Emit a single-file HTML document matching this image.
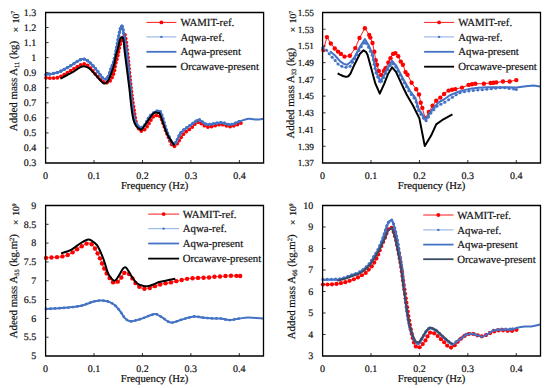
<!DOCTYPE html>
<html><head><meta charset="utf-8"><style>
html,body{margin:0;padding:0;background:#fff;}
body{width:550px;height:388px;overflow:hidden;}
svg{display:block;font-family:"Liberation Serif", serif;text-rendering:geometricPrecision;}
text{fill:#111;stroke:#111;stroke-width:0.2px;}
</style></head><body>
<svg width="550" height="388" viewBox="0 0 550 388">
<rect width="550" height="388" fill="#fff"/>
<path d="M46.00,77.80 L46.47,77.83 L47.08,77.87 L47.80,77.92 L48.62,77.98 L49.49,78.04 L50.39,78.09 L51.30,78.13 L52.19,78.14 L53.03,78.14 L53.80,78.10 L54.49,78.05 L55.13,78.01 L55.73,77.97 L56.32,77.91 L56.91,77.83 L57.51,77.71 L58.14,77.55 L58.82,77.33 L59.57,77.05 L60.40,76.70 L61.33,76.25 L62.34,75.70 L63.42,75.07 L64.56,74.39 L65.72,73.67 L66.89,72.93 L68.06,72.19 L69.19,71.48 L70.28,70.81 L71.30,70.20 L72.28,69.63 L73.24,69.06 L74.19,68.50 L75.12,67.95 L76.03,67.42 L76.90,66.92 L77.74,66.45 L78.54,66.02 L79.29,65.64 L80.00,65.30 L80.64,65.00 L81.22,64.73 L81.75,64.50 L82.23,64.30 L82.69,64.13 L83.12,64.01 L83.55,63.93 L83.98,63.90 L84.43,63.92 L84.90,64.00 L85.38,64.13 L85.85,64.31 L86.32,64.54 L86.78,64.82 L87.25,65.14 L87.72,65.50 L88.21,65.92 L88.72,66.37 L89.25,66.86 L89.80,67.40 L90.38,68.00 L91.00,68.69 L91.63,69.43 L92.28,70.23 L92.94,71.06 L93.62,71.91 L94.29,72.75 L94.97,73.57 L95.64,74.36 L96.30,75.10 L96.97,75.82 L97.67,76.55 L98.39,77.28 L99.12,78.01 L99.83,78.71 L100.53,79.38 L101.20,80.01 L101.82,80.58 L102.39,81.08 L102.90,81.50 L103.33,81.83 L103.70,82.08 L104.02,82.26 L104.29,82.39 L104.54,82.47 L104.76,82.52 L104.98,82.54 L105.20,82.55 L105.44,82.57 L105.70,82.60 L105.98,82.64 L106.26,82.67 L106.55,82.69 L106.83,82.70 L107.12,82.69 L107.40,82.67 L107.68,82.62 L107.96,82.54 L108.23,82.44 L108.50,82.30 L108.76,82.14 L109.01,81.96 L109.26,81.76 L109.51,81.54 L109.75,81.29 L109.99,81.01 L110.24,80.69 L110.49,80.34 L110.74,79.94 L111.00,79.50 L111.27,79.01 L111.56,78.48 L111.85,77.90 L112.15,77.29 L112.44,76.64 L112.74,75.96 L113.02,75.25 L113.30,74.52 L113.56,73.77 L113.80,73.00 L114.02,72.20 L114.22,71.36 L114.40,70.48 L114.57,69.58 L114.73,68.66 L114.89,67.72 L115.05,66.78 L115.22,65.84 L115.40,64.91 L115.60,64.00 L115.81,63.10 L116.03,62.22 L116.26,61.33 L116.49,60.45 L116.73,59.56 L116.97,58.67 L117.21,57.77 L117.44,56.86 L117.68,55.94 L117.90,55.00 L118.11,54.03 L118.32,53.02 L118.52,51.99 L118.72,50.95 L118.92,49.91 L119.12,48.87 L119.32,47.85 L119.54,46.86 L119.76,45.90 L120.00,45.00 L120.26,44.13 L120.53,43.27 L120.81,42.42 L121.11,41.60 L121.41,40.81 L121.70,40.05 L122.00,39.33 L122.28,38.67 L122.55,38.05 L122.80,37.50 L123.04,36.98 L123.27,36.48 L123.49,36.01 L123.70,35.59 L123.91,35.21 L124.10,34.91 L124.29,34.68 L124.47,34.54 L124.64,34.51 L124.80,34.60 L124.95,34.83 L125.08,35.22 L125.21,35.72 L125.32,36.32 L125.42,36.99 L125.52,37.71 L125.62,38.45 L125.71,39.17 L125.81,39.87 L125.90,40.50 L125.99,41.06 L126.07,41.57 L126.14,42.06 L126.21,42.53 L126.28,43.02 L126.34,43.56 L126.42,44.15 L126.50,44.82 L126.59,45.60 L126.70,46.50 L126.82,47.52 L126.95,48.62 L127.08,49.79 L127.23,51.05 L127.38,52.38 L127.53,53.77 L127.69,55.24 L127.86,56.76 L128.03,58.35 L128.20,60.00 L128.38,61.76 L128.57,63.66 L128.78,65.68 L128.98,67.77 L129.19,69.91 L129.40,72.05 L129.61,74.16 L129.82,76.22 L130.01,78.17 L130.20,80.00 L130.37,81.70 L130.54,83.32 L130.69,84.87 L130.84,86.36 L130.99,87.81 L131.14,89.24 L131.29,90.66 L131.45,92.08 L131.62,93.52 L131.80,95.00 L131.99,96.50 L132.20,98.02 L132.41,99.53 L132.62,101.05 L132.84,102.56 L133.07,104.07 L133.30,105.57 L133.53,107.06 L133.77,108.54 L134.00,110.00 L134.23,111.47 L134.45,112.98 L134.66,114.49 L134.88,116.01 L135.11,117.50 L135.34,118.95 L135.59,120.35 L135.87,121.66 L136.17,122.89 L136.50,124.00 L136.87,125.03 L137.26,126.01 L137.69,126.93 L138.13,127.78 L138.59,128.56 L139.07,129.26 L139.55,129.86 L140.04,130.35 L140.52,130.74 L141.00,131.00 L141.47,131.14 L141.94,131.17 L142.40,131.09 L142.87,130.90 L143.34,130.62 L143.83,130.26 L144.34,129.80 L144.86,129.27 L145.42,128.67 L146.00,128.00 L146.63,127.18 L147.32,126.16 L148.05,124.99 L148.80,123.72 L149.56,122.41 L150.32,121.10 L151.06,119.85 L151.76,118.72 L152.41,117.75 L153.00,117.00 L153.52,116.45 L153.99,116.03 L154.42,115.73 L154.82,115.52 L155.19,115.41 L155.54,115.36 L155.89,115.36 L156.25,115.39 L156.61,115.45 L157.00,115.50 L157.39,115.53 L157.77,115.53 L158.13,115.53 L158.50,115.56 L158.87,115.66 L159.25,115.84 L159.65,116.13 L160.07,116.57 L160.51,117.19 L161.00,118.00 L161.52,119.07 L162.07,120.39 L162.65,121.92 L163.25,123.60 L163.87,125.38 L164.50,127.21 L165.15,129.04 L165.80,130.81 L166.45,132.49 L167.10,134.00 L167.75,135.50 L168.39,137.10 L169.04,138.75 L169.69,140.39 L170.36,141.95 L171.04,143.37 L171.74,144.59 L172.46,145.54 L173.21,146.16 L174.00,146.40 L174.83,146.16 L175.71,145.48 L176.62,144.42 L177.56,143.10 L178.52,141.59 L179.48,139.98 L180.44,138.37 L181.39,136.84 L182.31,135.49 L183.20,134.40 L184.07,133.52 L184.93,132.72 L185.78,131.99 L186.63,131.33 L187.46,130.71 L188.28,130.12 L189.09,129.54 L189.88,128.98 L190.65,128.40 L191.40,127.80 L192.11,127.15 L192.77,126.43 L193.40,125.69 L194.01,124.95 L194.61,124.23 L195.21,123.57 L195.84,123.00 L196.51,122.55 L197.22,122.24 L198.00,122.10 L198.83,122.19 L199.69,122.52 L200.58,123.02 L201.49,123.65 L202.44,124.35 L203.43,125.06 L204.44,125.74 L205.49,126.32 L206.58,126.76 L207.70,127.00 L208.89,127.03 L210.16,126.90 L211.48,126.65 L212.85,126.32 L214.24,125.93 L215.63,125.53 L217.01,125.15 L218.34,124.83 L219.61,124.60 L220.80,124.50 L221.91,124.54 L222.96,124.70 L223.95,124.95 L224.91,125.24 L225.85,125.57 L226.77,125.89 L227.70,126.17 L228.64,126.39 L229.60,126.51 L230.60,126.50 L231.68,126.35 L232.85,126.08 L234.08,125.72 L235.33,125.29 L236.56,124.83 L237.75,124.35 L238.85,123.89 L239.83,123.48 L240.66,123.14 L241.30,122.90" fill="none" stroke="#ff0000" stroke-width="0.90" stroke-linejoin="round"/>
<circle cx="46.00" cy="77.80" r="1.90" fill="#ff0000"/>
<circle cx="49.79" cy="78.05" r="1.90" fill="#ff0000"/>
<circle cx="53.59" cy="78.11" r="1.90" fill="#ff0000"/>
<circle cx="57.37" cy="77.74" r="1.90" fill="#ff0000"/>
<circle cx="60.93" cy="76.44" r="1.90" fill="#ff0000"/>
<circle cx="64.24" cy="74.58" r="1.90" fill="#ff0000"/>
<circle cx="67.46" cy="72.57" r="1.90" fill="#ff0000"/>
<circle cx="70.69" cy="70.56" r="1.90" fill="#ff0000"/>
<circle cx="73.96" cy="68.63" r="1.90" fill="#ff0000"/>
<circle cx="77.25" cy="66.73" r="1.90" fill="#ff0000"/>
<circle cx="80.64" cy="65.01" r="1.90" fill="#ff0000"/>
<circle cx="84.23" cy="63.91" r="1.90" fill="#ff0000"/>
<circle cx="87.64" cy="65.44" r="1.90" fill="#ff0000"/>
<circle cx="90.41" cy="68.04" r="1.90" fill="#ff0000"/>
<circle cx="92.85" cy="70.95" r="1.90" fill="#ff0000"/>
<circle cx="95.25" cy="73.90" r="1.90" fill="#ff0000"/>
<circle cx="97.82" cy="76.70" r="1.90" fill="#ff0000"/>
<circle cx="100.52" cy="79.37" r="1.90" fill="#ff0000"/>
<circle cx="103.38" cy="81.86" r="1.90" fill="#ff0000"/>
<circle cx="107.01" cy="82.70" r="1.90" fill="#ff0000"/>
<circle cx="110.15" cy="80.80" r="1.90" fill="#ff0000"/>
<circle cx="112.04" cy="77.51" r="1.90" fill="#ff0000"/>
<circle cx="113.48" cy="74.00" r="1.90" fill="#ff0000"/>
<circle cx="114.43" cy="70.32" r="1.90" fill="#ff0000"/>
<circle cx="115.09" cy="66.58" r="1.90" fill="#ff0000"/>
<circle cx="115.87" cy="62.86" r="1.90" fill="#ff0000"/>
<circle cx="116.83" cy="59.19" r="1.90" fill="#ff0000"/>
<circle cx="117.78" cy="55.51" r="1.90" fill="#ff0000"/>
<circle cx="118.56" cy="51.79" r="1.90" fill="#ff0000"/>
<circle cx="119.28" cy="48.06" r="1.90" fill="#ff0000"/>
<circle cx="120.19" cy="44.37" r="1.90" fill="#ff0000"/>
<circle cx="121.42" cy="40.77" r="1.90" fill="#ff0000"/>
<circle cx="122.90" cy="37.28" r="1.90" fill="#ff0000"/>
<circle cx="124.94" cy="34.82" r="1.90" fill="#ff0000"/>
<circle cx="125.63" cy="38.55" r="1.90" fill="#ff0000"/>
<circle cx="126.18" cy="42.31" r="1.90" fill="#ff0000"/>
<circle cx="126.65" cy="46.08" r="1.90" fill="#ff0000"/>
<circle cx="127.09" cy="49.86" r="1.90" fill="#ff0000"/>
<circle cx="127.52" cy="53.63" r="1.90" fill="#ff0000"/>
<circle cx="127.93" cy="57.41" r="1.90" fill="#ff0000"/>
<circle cx="128.32" cy="61.19" r="1.90" fill="#ff0000"/>
<circle cx="128.71" cy="64.97" r="1.90" fill="#ff0000"/>
<circle cx="129.08" cy="68.75" r="1.90" fill="#ff0000"/>
<circle cx="129.45" cy="72.53" r="1.90" fill="#ff0000"/>
<circle cx="129.83" cy="76.32" r="1.90" fill="#ff0000"/>
<circle cx="130.21" cy="80.10" r="1.90" fill="#ff0000"/>
<circle cx="130.59" cy="83.88" r="1.90" fill="#ff0000"/>
<circle cx="130.97" cy="87.66" r="1.90" fill="#ff0000"/>
<circle cx="131.38" cy="91.44" r="1.90" fill="#ff0000"/>
<circle cx="131.83" cy="95.21" r="1.90" fill="#ff0000"/>
<circle cx="132.33" cy="98.98" r="1.90" fill="#ff0000"/>
<circle cx="132.87" cy="102.74" r="1.90" fill="#ff0000"/>
<circle cx="133.44" cy="106.49" r="1.90" fill="#ff0000"/>
<circle cx="134.04" cy="110.25" r="1.90" fill="#ff0000"/>
<circle cx="134.60" cy="114.01" r="1.90" fill="#ff0000"/>
<circle cx="135.15" cy="117.77" r="1.90" fill="#ff0000"/>
<circle cx="135.83" cy="121.50" r="1.90" fill="#ff0000"/>
<circle cx="136.91" cy="125.14" r="1.90" fill="#ff0000"/>
<circle cx="138.59" cy="128.55" r="1.90" fill="#ff0000"/>
<circle cx="141.30" cy="131.09" r="1.90" fill="#ff0000"/>
<circle cx="144.58" cy="129.56" r="1.90" fill="#ff0000"/>
<circle cx="147.00" cy="126.64" r="1.90" fill="#ff0000"/>
<circle cx="148.98" cy="123.40" r="1.90" fill="#ff0000"/>
<circle cx="150.90" cy="120.12" r="1.90" fill="#ff0000"/>
<circle cx="153.02" cy="116.97" r="1.90" fill="#ff0000"/>
<circle cx="156.27" cy="115.40" r="1.90" fill="#ff0000"/>
<circle cx="159.83" cy="116.32" r="1.90" fill="#ff0000"/>
<circle cx="161.74" cy="119.58" r="1.90" fill="#ff0000"/>
<circle cx="163.08" cy="123.14" r="1.90" fill="#ff0000"/>
<circle cx="164.33" cy="126.72" r="1.90" fill="#ff0000"/>
<circle cx="165.61" cy="130.30" r="1.90" fill="#ff0000"/>
<circle cx="167.03" cy="133.83" r="1.90" fill="#ff0000"/>
<circle cx="168.48" cy="137.34" r="1.90" fill="#ff0000"/>
<circle cx="169.89" cy="140.87" r="1.90" fill="#ff0000"/>
<circle cx="171.56" cy="144.28" r="1.90" fill="#ff0000"/>
<circle cx="174.43" cy="146.28" r="1.90" fill="#ff0000"/>
<circle cx="177.13" cy="143.71" r="1.90" fill="#ff0000"/>
<circle cx="179.17" cy="140.51" r="1.90" fill="#ff0000"/>
<circle cx="181.13" cy="137.25" r="1.90" fill="#ff0000"/>
<circle cx="183.39" cy="134.21" r="1.90" fill="#ff0000"/>
<circle cx="186.21" cy="131.66" r="1.90" fill="#ff0000"/>
<circle cx="189.27" cy="129.41" r="1.90" fill="#ff0000"/>
<circle cx="192.22" cy="127.03" r="1.90" fill="#ff0000"/>
<circle cx="194.69" cy="124.14" r="1.90" fill="#ff0000"/>
<circle cx="197.81" cy="122.13" r="1.90" fill="#ff0000"/>
<circle cx="201.26" cy="123.49" r="1.90" fill="#ff0000"/>
<circle cx="204.36" cy="125.69" r="1.90" fill="#ff0000"/>
<circle cx="207.89" cy="127.00" r="1.90" fill="#ff0000"/>
<circle cx="211.65" cy="126.61" r="1.90" fill="#ff0000"/>
<circle cx="215.32" cy="125.62" r="1.90" fill="#ff0000"/>
<circle cx="219.01" cy="124.71" r="1.90" fill="#ff0000"/>
<circle cx="222.78" cy="124.67" r="1.90" fill="#ff0000"/>
<circle cx="226.42" cy="125.76" r="1.90" fill="#ff0000"/>
<circle cx="230.12" cy="126.50" r="1.90" fill="#ff0000"/>
<circle cx="233.84" cy="125.79" r="1.90" fill="#ff0000"/>
<circle cx="237.41" cy="124.49" r="1.90" fill="#ff0000"/>
<circle cx="240.92" cy="123.04" r="1.90" fill="#ff0000"/>
<path d="M46.00,74.50 L46.47,74.44 L47.08,74.37 L47.80,74.28 L48.62,74.19 L49.49,74.08 L50.39,73.96 L51.30,73.84 L52.19,73.70 L53.03,73.56 L53.80,73.40 L54.49,73.25 L55.13,73.11 L55.73,72.97 L56.32,72.82 L56.91,72.66 L57.51,72.47 L58.14,72.25 L58.82,71.99 L59.57,71.67 L60.40,71.30 L61.33,70.86 L62.34,70.34 L63.42,69.77 L64.56,69.16 L65.72,68.51 L66.89,67.85 L68.06,67.19 L69.19,66.53 L70.28,65.90 L71.30,65.30 L72.28,64.71 L73.24,64.09 L74.19,63.46 L75.12,62.82 L76.03,62.21 L76.90,61.62 L77.74,61.07 L78.54,60.57 L79.29,60.15 L80.00,59.80 L80.64,59.53 L81.22,59.32 L81.75,59.17 L82.23,59.06 L82.69,59.01 L83.12,58.99 L83.55,59.02 L83.98,59.08 L84.43,59.18 L84.90,59.30 L85.38,59.45 L85.85,59.64 L86.32,59.87 L86.78,60.13 L87.25,60.42 L87.72,60.76 L88.21,61.14 L88.72,61.55 L89.25,62.01 L89.80,62.50 L90.40,63.06 L91.04,63.70 L91.71,64.40 L92.40,65.15 L93.11,65.92 L93.80,66.70 L94.48,67.48 L95.13,68.23 L95.74,68.95 L96.30,69.60 L96.80,70.21 L97.27,70.80 L97.70,71.36 L98.10,71.91 L98.48,72.44 L98.85,72.96 L99.21,73.46 L99.57,73.95 L99.93,74.43 L100.30,74.90 L100.68,75.38 L101.05,75.87 L101.41,76.36 L101.77,76.85 L102.12,77.31 L102.48,77.74 L102.83,78.13 L103.19,78.46 L103.54,78.72 L103.90,78.90 L104.26,79.02 L104.62,79.10 L104.98,79.15 L105.34,79.14 L105.70,79.07 L106.06,78.94 L106.42,78.73 L106.78,78.44 L107.14,78.07 L107.50,77.60 L107.86,77.01 L108.22,76.31 L108.58,75.50 L108.94,74.60 L109.30,73.64 L109.66,72.64 L110.02,71.60 L110.38,70.55 L110.74,69.51 L111.10,68.50 L111.46,67.52 L111.82,66.56 L112.19,65.60 L112.55,64.63 L112.92,63.64 L113.28,62.60 L113.64,61.50 L114.00,60.33 L114.35,59.07 L114.70,57.70 L115.04,56.19 L115.38,54.55 L115.71,52.79 L116.03,50.95 L116.36,49.07 L116.68,47.17 L117.00,45.28 L117.33,43.43 L117.66,41.66 L118.00,40.00 L118.34,38.31 L118.70,36.50 L119.05,34.62 L119.41,32.76 L119.77,30.97 L120.13,29.34 L120.48,27.93 L120.83,26.80 L121.17,26.04 L121.50,25.70 L121.82,25.81 L122.13,26.30 L122.44,27.13 L122.74,28.24 L123.03,29.58 L123.32,31.10 L123.62,32.76 L123.91,34.49 L124.20,36.26 L124.50,38.00 L124.80,39.79 L125.11,41.73 L125.42,43.79 L125.72,45.96 L126.03,48.21 L126.34,50.52 L126.64,52.87 L126.93,55.25 L127.22,57.63 L127.50,60.00 L127.77,62.39 L128.03,64.84 L128.29,67.34 L128.54,69.88 L128.78,72.44 L129.02,75.00 L129.27,77.55 L129.51,80.08 L129.75,82.57 L130.00,85.00 L130.25,87.43 L130.50,89.89 L130.75,92.36 L131.00,94.82 L131.25,97.25 L131.50,99.62 L131.75,101.90 L132.00,104.07 L132.25,106.11 L132.50,108.00 L132.74,109.74 L132.97,111.35 L133.19,112.85 L133.41,114.25 L133.64,115.55 L133.87,116.77 L134.12,117.91 L134.38,119.00 L134.68,120.02 L135.00,121.00 L135.36,121.93 L135.74,122.79 L136.15,123.59 L136.57,124.32 L137.01,124.99 L137.46,125.58 L137.92,126.10 L138.39,126.54 L138.85,126.91 L139.30,127.20 L139.75,127.42 L140.19,127.57 L140.64,127.66 L141.09,127.68 L141.54,127.61 L142.01,127.47 L142.48,127.24 L142.97,126.92 L143.48,126.51 L144.00,126.00 L144.54,125.33 L145.10,124.48 L145.67,123.49 L146.26,122.39 L146.86,121.23 L147.47,120.06 L148.09,118.90 L148.72,117.81 L149.35,116.83 L150.00,116.00 L150.67,115.27 L151.38,114.58 L152.12,113.94 L152.87,113.35 L153.62,112.81 L154.37,112.33 L155.09,111.91 L155.78,111.56 L156.42,111.29 L157.00,111.10 L157.51,110.94 L157.96,110.77 L158.36,110.63 L158.72,110.55 L159.06,110.56 L159.40,110.68 L159.75,110.96 L160.12,111.42 L160.53,112.09 L161.00,113.00 L161.51,114.24 L162.06,115.82 L162.62,117.66 L163.21,119.70 L163.81,121.87 L164.43,124.08 L165.06,126.28 L165.70,128.37 L166.35,130.31 L167.00,132.00 L167.66,133.59 L168.34,135.22 L169.03,136.85 L169.73,138.43 L170.44,139.91 L171.15,141.23 L171.87,142.35 L172.58,143.22 L173.30,143.78 L174.00,144.00 L174.69,143.78 L175.37,143.13 L176.04,142.14 L176.70,140.88 L177.38,139.44 L178.06,137.90 L178.75,136.36 L179.47,134.89 L180.22,133.57 L181.00,132.50 L181.82,131.61 L182.69,130.79 L183.59,130.02 L184.51,129.30 L185.44,128.62 L186.38,127.98 L187.32,127.35 L188.24,126.73 L189.14,126.12 L190.00,125.50 L190.86,124.86 L191.72,124.20 L192.60,123.53 L193.46,122.88 L194.31,122.25 L195.12,121.66 L195.90,121.12 L196.63,120.66 L197.30,120.28 L197.90,120.00 L198.40,119.83 L198.80,119.74 L199.13,119.74 L199.40,119.81 L199.64,119.94 L199.87,120.11 L200.12,120.31 L200.41,120.54 L200.76,120.77 L201.20,121.00 L201.69,121.27 L202.19,121.63 L202.71,122.04 L203.25,122.48 L203.84,122.93 L204.47,123.37 L205.16,123.77 L205.93,124.11 L206.77,124.36 L207.70,124.50 L208.76,124.51 L209.95,124.40 L211.25,124.21 L212.62,123.95 L214.04,123.65 L215.48,123.35 L216.90,123.06 L218.29,122.82 L219.59,122.66 L220.80,122.60 L221.91,122.66 L222.97,122.82 L223.98,123.06 L224.95,123.35 L225.90,123.65 L226.83,123.95 L227.76,124.21 L228.69,124.40 L229.63,124.51 L230.60,124.50 L231.63,124.35 L232.73,124.09 L233.87,123.74 L235.03,123.32 L236.16,122.87 L237.25,122.41 L238.25,121.96 L239.15,121.56 L239.91,121.23 L240.50,121.00" fill="none" stroke="#9dbbe6" stroke-width="1.20" stroke-linejoin="round"/>
<circle cx="46.00" cy="74.50" r="1.60" fill="#4472c4"/>
<circle cx="49.77" cy="74.04" r="1.60" fill="#4472c4"/>
<circle cx="53.53" cy="73.46" r="1.60" fill="#4472c4"/>
<circle cx="57.22" cy="72.56" r="1.60" fill="#4472c4"/>
<circle cx="60.74" cy="71.14" r="1.60" fill="#4472c4"/>
<circle cx="64.11" cy="69.40" r="1.60" fill="#4472c4"/>
<circle cx="67.43" cy="67.54" r="1.60" fill="#4472c4"/>
<circle cx="70.72" cy="65.64" r="1.60" fill="#4472c4"/>
<circle cx="73.94" cy="63.62" r="1.60" fill="#4472c4"/>
<circle cx="77.09" cy="61.49" r="1.60" fill="#4472c4"/>
<circle cx="80.39" cy="59.64" r="1.60" fill="#4472c4"/>
<circle cx="84.09" cy="59.11" r="1.60" fill="#4472c4"/>
<circle cx="87.54" cy="60.63" r="1.60" fill="#4472c4"/>
<circle cx="90.43" cy="63.09" r="1.60" fill="#4472c4"/>
<circle cx="93.04" cy="65.85" r="1.60" fill="#4472c4"/>
<circle cx="95.54" cy="68.71" r="1.60" fill="#4472c4"/>
<circle cx="97.92" cy="71.67" r="1.60" fill="#4472c4"/>
<circle cx="100.17" cy="74.73" r="1.60" fill="#4472c4"/>
<circle cx="102.48" cy="77.75" r="1.60" fill="#4472c4"/>
<circle cx="105.81" cy="79.03" r="1.60" fill="#4472c4"/>
<circle cx="108.25" cy="76.24" r="1.60" fill="#4472c4"/>
<circle cx="109.63" cy="72.71" r="1.60" fill="#4472c4"/>
<circle cx="110.88" cy="69.12" r="1.60" fill="#4472c4"/>
<circle cx="112.21" cy="65.56" r="1.60" fill="#4472c4"/>
<circle cx="113.48" cy="61.98" r="1.60" fill="#4472c4"/>
<circle cx="114.54" cy="58.33" r="1.60" fill="#4472c4"/>
<circle cx="115.36" cy="54.62" r="1.60" fill="#4472c4"/>
<circle cx="116.04" cy="50.88" r="1.60" fill="#4472c4"/>
<circle cx="116.69" cy="47.14" r="1.60" fill="#4472c4"/>
<circle cx="117.34" cy="43.39" r="1.60" fill="#4472c4"/>
<circle cx="118.07" cy="39.66" r="1.60" fill="#4472c4"/>
<circle cx="118.80" cy="35.94" r="1.60" fill="#4472c4"/>
<circle cx="119.52" cy="32.20" r="1.60" fill="#4472c4"/>
<circle cx="120.34" cy="28.49" r="1.60" fill="#4472c4"/>
<circle cx="122.03" cy="26.14" r="1.60" fill="#4472c4"/>
<circle cx="123.07" cy="29.78" r="1.60" fill="#4472c4"/>
<circle cx="123.74" cy="33.52" r="1.60" fill="#4472c4"/>
<circle cx="124.37" cy="37.27" r="1.60" fill="#4472c4"/>
<circle cx="124.99" cy="41.01" r="1.60" fill="#4472c4"/>
<circle cx="125.56" cy="44.77" r="1.60" fill="#4472c4"/>
<circle cx="126.07" cy="48.54" r="1.60" fill="#4472c4"/>
<circle cx="126.56" cy="52.31" r="1.60" fill="#4472c4"/>
<circle cx="127.03" cy="56.08" r="1.60" fill="#4472c4"/>
<circle cx="127.48" cy="59.85" r="1.60" fill="#4472c4"/>
<circle cx="127.90" cy="63.63" r="1.60" fill="#4472c4"/>
<circle cx="128.29" cy="67.41" r="1.60" fill="#4472c4"/>
<circle cx="128.66" cy="71.19" r="1.60" fill="#4472c4"/>
<circle cx="129.02" cy="74.97" r="1.60" fill="#4472c4"/>
<circle cx="129.38" cy="78.75" r="1.60" fill="#4472c4"/>
<circle cx="129.75" cy="82.54" r="1.60" fill="#4472c4"/>
<circle cx="130.14" cy="86.32" r="1.60" fill="#4472c4"/>
<circle cx="130.52" cy="90.10" r="1.60" fill="#4472c4"/>
<circle cx="130.90" cy="93.88" r="1.60" fill="#4472c4"/>
<circle cx="131.29" cy="97.66" r="1.60" fill="#4472c4"/>
<circle cx="131.70" cy="101.44" r="1.60" fill="#4472c4"/>
<circle cx="132.14" cy="105.21" r="1.60" fill="#4472c4"/>
<circle cx="132.64" cy="108.98" r="1.60" fill="#4472c4"/>
<circle cx="133.18" cy="112.74" r="1.60" fill="#4472c4"/>
<circle cx="133.82" cy="116.49" r="1.60" fill="#4472c4"/>
<circle cx="134.73" cy="120.17" r="1.60" fill="#4472c4"/>
<circle cx="136.19" cy="123.67" r="1.60" fill="#4472c4"/>
<circle cx="138.52" cy="126.65" r="1.60" fill="#4472c4"/>
<circle cx="142.03" cy="127.46" r="1.60" fill="#4472c4"/>
<circle cx="144.80" cy="124.94" r="1.60" fill="#4472c4"/>
<circle cx="146.65" cy="121.62" r="1.60" fill="#4472c4"/>
<circle cx="148.45" cy="118.28" r="1.60" fill="#4472c4"/>
<circle cx="150.71" cy="115.24" r="1.60" fill="#4472c4"/>
<circle cx="153.62" cy="112.81" r="1.60" fill="#4472c4"/>
<circle cx="157.00" cy="111.10" r="1.60" fill="#4472c4"/>
<circle cx="160.25" cy="111.64" r="1.60" fill="#4472c4"/>
<circle cx="161.81" cy="115.09" r="1.60" fill="#4472c4"/>
<circle cx="162.93" cy="118.72" r="1.60" fill="#4472c4"/>
<circle cx="163.96" cy="122.38" r="1.60" fill="#4472c4"/>
<circle cx="164.99" cy="126.04" r="1.60" fill="#4472c4"/>
<circle cx="166.13" cy="129.66" r="1.60" fill="#4472c4"/>
<circle cx="167.50" cy="133.21" r="1.60" fill="#4472c4"/>
<circle cx="168.97" cy="136.71" r="1.60" fill="#4472c4"/>
<circle cx="170.57" cy="140.15" r="1.60" fill="#4472c4"/>
<circle cx="172.68" cy="143.29" r="1.60" fill="#4472c4"/>
<circle cx="175.71" cy="142.62" r="1.60" fill="#4472c4"/>
<circle cx="177.46" cy="139.25" r="1.60" fill="#4472c4"/>
<circle cx="179.03" cy="135.79" r="1.60" fill="#4472c4"/>
<circle cx="180.97" cy="132.54" r="1.60" fill="#4472c4"/>
<circle cx="183.72" cy="129.92" r="1.60" fill="#4472c4"/>
<circle cx="186.80" cy="127.70" r="1.60" fill="#4472c4"/>
<circle cx="189.93" cy="125.55" r="1.60" fill="#4472c4"/>
<circle cx="192.96" cy="123.26" r="1.60" fill="#4472c4"/>
<circle cx="196.05" cy="121.03" r="1.60" fill="#4472c4"/>
<circle cx="199.51" cy="119.87" r="1.60" fill="#4472c4"/>
<circle cx="202.65" cy="121.99" r="1.60" fill="#4472c4"/>
<circle cx="205.82" cy="124.06" r="1.60" fill="#4472c4"/>
<circle cx="209.56" cy="124.44" r="1.60" fill="#4472c4"/>
<circle cx="213.31" cy="123.80" r="1.60" fill="#4472c4"/>
<circle cx="217.03" cy="123.04" r="1.60" fill="#4472c4"/>
<circle cx="220.80" cy="122.60" r="1.60" fill="#4472c4"/>
<circle cx="224.53" cy="123.22" r="1.60" fill="#4472c4"/>
<circle cx="228.18" cy="124.30" r="1.60" fill="#4472c4"/>
<circle cx="231.94" cy="124.28" r="1.60" fill="#4472c4"/>
<circle cx="235.55" cy="123.11" r="1.60" fill="#4472c4"/>
<circle cx="239.04" cy="121.61" r="1.60" fill="#4472c4"/>
<path d="M46.00,74.50 C47.30,74.32 51.40,73.93 53.80,73.40 C56.20,72.87 57.48,72.65 60.40,71.30 C63.32,69.95 68.03,67.22 71.30,65.30 C74.57,63.38 77.73,60.80 80.00,59.80 C82.27,58.80 83.27,58.85 84.90,59.30 C86.53,59.75 87.90,60.78 89.80,62.50 C91.70,64.22 94.55,67.53 96.30,69.60 C98.05,71.67 99.03,73.35 100.30,74.90 C101.57,76.45 102.70,78.45 103.90,78.90 C105.10,79.35 106.30,79.33 107.50,77.60 C108.70,75.87 109.90,71.82 111.10,68.50 C112.30,65.18 113.55,62.45 114.70,57.70 C115.85,52.95 116.87,45.33 118.00,40.00 C119.13,34.67 120.42,26.03 121.50,25.70 C122.58,25.37 123.50,32.28 124.50,38.00 C125.50,43.72 126.58,52.17 127.50,60.00 C128.42,67.83 129.17,77.00 130.00,85.00 C130.83,93.00 131.67,102.00 132.50,108.00 C133.33,114.00 133.87,117.80 135.00,121.00 C136.13,124.20 137.80,126.37 139.30,127.20 C140.80,128.03 142.22,127.87 144.00,126.00 C145.78,124.13 147.83,118.48 150.00,116.00 C152.17,113.52 155.17,111.60 157.00,111.10 C158.83,110.60 159.33,109.52 161.00,113.00 C162.67,116.48 164.83,126.83 167.00,132.00 C169.17,137.17 171.67,143.92 174.00,144.00 C176.33,144.08 178.33,135.58 181.00,132.50 C183.67,129.42 187.18,127.58 190.00,125.50 C192.82,123.42 196.03,120.75 197.90,120.00 C199.77,119.25 199.57,120.25 201.20,121.00 C202.83,121.75 204.43,124.23 207.70,124.50 C210.97,124.77 216.98,122.60 220.80,122.60 C224.62,122.60 227.32,124.77 230.60,124.50 C233.88,124.23 237.50,121.95 240.50,121.00 C243.50,120.05 245.88,119.03 248.60,118.80 C251.32,118.57 254.33,119.60 256.80,119.60 C259.27,119.60 262.30,118.93 263.40,118.80" fill="none" stroke="#4472c4" stroke-width="2.00" stroke-linejoin="round" stroke-linecap="butt"/>
<circle cx="46.00" cy="74.50" r="1.60" fill="#4472c4"/>
<circle cx="49.77" cy="74.04" r="1.60" fill="#4472c4"/>
<circle cx="53.53" cy="73.46" r="1.60" fill="#4472c4"/>
<circle cx="57.22" cy="72.56" r="1.60" fill="#4472c4"/>
<circle cx="60.74" cy="71.14" r="1.60" fill="#4472c4"/>
<circle cx="64.11" cy="69.40" r="1.60" fill="#4472c4"/>
<circle cx="67.43" cy="67.54" r="1.60" fill="#4472c4"/>
<circle cx="70.72" cy="65.64" r="1.60" fill="#4472c4"/>
<circle cx="73.94" cy="63.62" r="1.60" fill="#4472c4"/>
<circle cx="77.09" cy="61.49" r="1.60" fill="#4472c4"/>
<circle cx="80.39" cy="59.64" r="1.60" fill="#4472c4"/>
<circle cx="84.09" cy="59.11" r="1.60" fill="#4472c4"/>
<circle cx="87.54" cy="60.63" r="1.60" fill="#4472c4"/>
<circle cx="90.43" cy="63.09" r="1.60" fill="#4472c4"/>
<circle cx="93.04" cy="65.85" r="1.60" fill="#4472c4"/>
<circle cx="95.54" cy="68.71" r="1.60" fill="#4472c4"/>
<circle cx="97.92" cy="71.67" r="1.60" fill="#4472c4"/>
<circle cx="100.17" cy="74.73" r="1.60" fill="#4472c4"/>
<circle cx="102.48" cy="77.75" r="1.60" fill="#4472c4"/>
<circle cx="105.81" cy="79.03" r="1.60" fill="#4472c4"/>
<circle cx="108.25" cy="76.24" r="1.60" fill="#4472c4"/>
<circle cx="109.63" cy="72.71" r="1.60" fill="#4472c4"/>
<circle cx="110.88" cy="69.12" r="1.60" fill="#4472c4"/>
<circle cx="112.21" cy="65.56" r="1.60" fill="#4472c4"/>
<circle cx="113.48" cy="61.98" r="1.60" fill="#4472c4"/>
<circle cx="114.54" cy="58.33" r="1.60" fill="#4472c4"/>
<circle cx="115.36" cy="54.62" r="1.60" fill="#4472c4"/>
<circle cx="116.04" cy="50.88" r="1.60" fill="#4472c4"/>
<circle cx="116.69" cy="47.14" r="1.60" fill="#4472c4"/>
<circle cx="117.34" cy="43.39" r="1.60" fill="#4472c4"/>
<circle cx="118.07" cy="39.66" r="1.60" fill="#4472c4"/>
<circle cx="118.80" cy="35.94" r="1.60" fill="#4472c4"/>
<circle cx="119.52" cy="32.20" r="1.60" fill="#4472c4"/>
<circle cx="120.34" cy="28.49" r="1.60" fill="#4472c4"/>
<circle cx="122.03" cy="26.14" r="1.60" fill="#4472c4"/>
<circle cx="123.07" cy="29.78" r="1.60" fill="#4472c4"/>
<circle cx="123.74" cy="33.52" r="1.60" fill="#4472c4"/>
<circle cx="124.37" cy="37.27" r="1.60" fill="#4472c4"/>
<circle cx="124.99" cy="41.01" r="1.60" fill="#4472c4"/>
<circle cx="125.56" cy="44.77" r="1.60" fill="#4472c4"/>
<circle cx="126.07" cy="48.54" r="1.60" fill="#4472c4"/>
<circle cx="126.56" cy="52.31" r="1.60" fill="#4472c4"/>
<circle cx="127.03" cy="56.08" r="1.60" fill="#4472c4"/>
<circle cx="127.48" cy="59.85" r="1.60" fill="#4472c4"/>
<circle cx="127.90" cy="63.63" r="1.60" fill="#4472c4"/>
<circle cx="128.29" cy="67.41" r="1.60" fill="#4472c4"/>
<circle cx="128.66" cy="71.19" r="1.60" fill="#4472c4"/>
<circle cx="129.02" cy="74.97" r="1.60" fill="#4472c4"/>
<circle cx="129.38" cy="78.75" r="1.60" fill="#4472c4"/>
<circle cx="129.75" cy="82.54" r="1.60" fill="#4472c4"/>
<circle cx="130.14" cy="86.32" r="1.60" fill="#4472c4"/>
<circle cx="130.52" cy="90.10" r="1.60" fill="#4472c4"/>
<circle cx="130.90" cy="93.88" r="1.60" fill="#4472c4"/>
<circle cx="131.29" cy="97.66" r="1.60" fill="#4472c4"/>
<circle cx="131.70" cy="101.44" r="1.60" fill="#4472c4"/>
<circle cx="132.14" cy="105.21" r="1.60" fill="#4472c4"/>
<circle cx="132.64" cy="108.98" r="1.60" fill="#4472c4"/>
<circle cx="133.18" cy="112.74" r="1.60" fill="#4472c4"/>
<circle cx="133.82" cy="116.49" r="1.60" fill="#4472c4"/>
<circle cx="134.73" cy="120.17" r="1.60" fill="#4472c4"/>
<circle cx="136.19" cy="123.67" r="1.60" fill="#4472c4"/>
<circle cx="138.52" cy="126.65" r="1.60" fill="#4472c4"/>
<circle cx="142.03" cy="127.46" r="1.60" fill="#4472c4"/>
<circle cx="144.80" cy="124.94" r="1.60" fill="#4472c4"/>
<circle cx="146.65" cy="121.62" r="1.60" fill="#4472c4"/>
<circle cx="148.45" cy="118.28" r="1.60" fill="#4472c4"/>
<circle cx="150.71" cy="115.24" r="1.60" fill="#4472c4"/>
<circle cx="153.62" cy="112.81" r="1.60" fill="#4472c4"/>
<circle cx="157.00" cy="111.10" r="1.60" fill="#4472c4"/>
<circle cx="160.25" cy="111.64" r="1.60" fill="#4472c4"/>
<circle cx="161.81" cy="115.09" r="1.60" fill="#4472c4"/>
<circle cx="162.93" cy="118.72" r="1.60" fill="#4472c4"/>
<circle cx="163.96" cy="122.38" r="1.60" fill="#4472c4"/>
<circle cx="164.99" cy="126.04" r="1.60" fill="#4472c4"/>
<circle cx="166.13" cy="129.66" r="1.60" fill="#4472c4"/>
<circle cx="167.50" cy="133.21" r="1.60" fill="#4472c4"/>
<circle cx="168.97" cy="136.71" r="1.60" fill="#4472c4"/>
<circle cx="170.57" cy="140.15" r="1.60" fill="#4472c4"/>
<circle cx="172.68" cy="143.29" r="1.60" fill="#4472c4"/>
<circle cx="175.71" cy="142.62" r="1.60" fill="#4472c4"/>
<circle cx="177.46" cy="139.25" r="1.60" fill="#4472c4"/>
<circle cx="179.03" cy="135.79" r="1.60" fill="#4472c4"/>
<circle cx="180.97" cy="132.54" r="1.60" fill="#4472c4"/>
<circle cx="183.72" cy="129.92" r="1.60" fill="#4472c4"/>
<circle cx="186.80" cy="127.70" r="1.60" fill="#4472c4"/>
<circle cx="189.93" cy="125.55" r="1.60" fill="#4472c4"/>
<circle cx="192.96" cy="123.26" r="1.60" fill="#4472c4"/>
<circle cx="196.05" cy="121.03" r="1.60" fill="#4472c4"/>
<circle cx="199.51" cy="119.87" r="1.60" fill="#4472c4"/>
<circle cx="202.65" cy="121.99" r="1.60" fill="#4472c4"/>
<circle cx="205.82" cy="124.06" r="1.60" fill="#4472c4"/>
<circle cx="209.56" cy="124.44" r="1.60" fill="#4472c4"/>
<circle cx="213.31" cy="123.80" r="1.60" fill="#4472c4"/>
<circle cx="217.03" cy="123.04" r="1.60" fill="#4472c4"/>
<circle cx="220.80" cy="122.60" r="1.60" fill="#4472c4"/>
<circle cx="224.53" cy="123.22" r="1.60" fill="#4472c4"/>
<circle cx="228.18" cy="124.30" r="1.60" fill="#4472c4"/>
<circle cx="231.94" cy="124.28" r="1.60" fill="#4472c4"/>
<circle cx="235.55" cy="123.11" r="1.60" fill="#4472c4"/>
<circle cx="239.04" cy="121.61" r="1.60" fill="#4472c4"/>
<path d="M60.40,78.60 C62.22,77.65 68.03,74.77 71.30,72.90 C74.57,71.03 77.73,68.48 80.00,67.40 C82.27,66.32 83.33,66.22 84.90,66.40 C86.47,66.58 87.75,67.23 89.40,68.50 C91.05,69.77 92.98,72.03 94.80,74.00 C96.62,75.97 98.78,78.72 100.30,80.30 C101.82,81.88 102.85,83.12 103.90,83.50 C104.95,83.88 105.70,83.43 106.60,82.60 C107.50,81.77 108.40,80.38 109.30,78.50 C110.20,76.62 111.17,73.72 112.00,71.30 C112.83,68.88 113.62,66.72 114.30,64.00 C114.98,61.28 115.53,57.42 116.10,55.00 C116.67,52.58 117.18,51.50 117.70,49.50 C118.22,47.50 118.75,44.83 119.20,43.00 C119.65,41.17 119.97,39.43 120.40,38.50 C120.83,37.57 121.37,37.50 121.80,37.40 C122.23,37.30 122.67,37.13 123.00,37.90 C123.33,38.67 123.55,39.98 123.80,42.00 C124.05,44.02 124.13,46.67 124.50,50.00 C124.87,53.33 125.20,55.67 126.00,62.00 C126.80,68.33 128.38,80.33 129.30,88.00 C130.22,95.67 130.80,102.67 131.50,108.00 C132.20,113.33 132.67,116.92 133.50,120.00 C134.33,123.08 135.50,125.03 136.50,126.50 C137.50,127.97 138.52,128.45 139.50,128.80 C140.48,129.15 140.12,131.13 142.40,128.60 C144.68,126.07 150.63,116.18 153.20,113.60 C155.77,111.02 156.65,112.92 157.80,113.10 C158.95,113.28 158.55,111.22 160.10,114.70 C161.65,118.18 164.70,128.85 167.10,134.00 C169.50,139.15 173.27,143.67 174.50,145.60" fill="none" stroke="#000000" stroke-width="2.00" stroke-linejoin="round" stroke-linecap="butt"/>
<path d="M45.60,12.50 H263.60 V163.00 H45.60 Z" fill="none" stroke="#000" stroke-width="1.30"/>
<text x="36.20" y="15.80" font-size="10.00" text-anchor="end">1.3</text>
<path d="M45.60,27.55 h3" stroke="#000" stroke-width="0.8"/>
<text x="36.20" y="30.85" font-size="10.00" text-anchor="end">1.2</text>
<path d="M45.60,42.60 h3" stroke="#000" stroke-width="0.8"/>
<text x="36.20" y="45.90" font-size="10.00" text-anchor="end">1.1</text>
<path d="M45.60,57.65 h3" stroke="#000" stroke-width="0.8"/>
<text x="36.20" y="60.95" font-size="10.00" text-anchor="end">1</text>
<path d="M45.60,72.70 h3" stroke="#000" stroke-width="0.8"/>
<text x="36.20" y="76.00" font-size="10.00" text-anchor="end">0.9</text>
<path d="M45.60,87.75 h3" stroke="#000" stroke-width="0.8"/>
<text x="36.20" y="91.05" font-size="10.00" text-anchor="end">0.8</text>
<path d="M45.60,102.80 h3" stroke="#000" stroke-width="0.8"/>
<text x="36.20" y="106.10" font-size="10.00" text-anchor="end">0.7</text>
<path d="M45.60,117.85 h3" stroke="#000" stroke-width="0.8"/>
<text x="36.20" y="121.15" font-size="10.00" text-anchor="end">0.6</text>
<path d="M45.60,132.90 h3" stroke="#000" stroke-width="0.8"/>
<text x="36.20" y="136.20" font-size="10.00" text-anchor="end">0.5</text>
<path d="M45.60,147.95 h3" stroke="#000" stroke-width="0.8"/>
<text x="36.20" y="151.25" font-size="10.00" text-anchor="end">0.4</text>
<text x="36.20" y="166.30" font-size="10.00" text-anchor="end">0.3</text>
<text x="45.60" y="179.00" font-size="10.00" text-anchor="middle">0</text>
<path d="M94.04,163.00 v-3" stroke="#000" stroke-width="0.8"/>
<text x="94.04" y="179.00" font-size="10.00" text-anchor="middle">0.1</text>
<path d="M142.49,163.00 v-3" stroke="#000" stroke-width="0.8"/>
<text x="142.49" y="179.00" font-size="10.00" text-anchor="middle">0.2</text>
<path d="M190.93,163.00 v-3" stroke="#000" stroke-width="0.8"/>
<text x="190.93" y="179.00" font-size="10.00" text-anchor="middle">0.3</text>
<path d="M239.38,163.00 v-3" stroke="#000" stroke-width="0.8"/>
<text x="239.38" y="179.00" font-size="10.00" text-anchor="middle">0.4</text>
<text x="154.60" y="189.40" font-size="10.70" text-anchor="middle">Frequency (Hz)</text>
<text transform="translate(16.50,86.00) rotate(-90)" font-size="10.85" text-anchor="middle">Added mass A<tspan font-size="6.5" dy="2">11</tspan><tspan dy="-2"> (kg)</tspan></text>
<text transform="translate(18.80,32.30) rotate(-90)" font-size="9.50" text-anchor="start">&#215;<tspan dx="1.3"> 10</tspan><tspan font-size="5.70" dy="-3.5">7</tspan></text>
<path d="M146.40,22.40 H176.40" stroke="#ff0000" stroke-width="0.9"/>
<circle cx="161.40" cy="22.40" r="1.9" fill="#ff0000"/>
<text x="180.40" y="26.00" font-size="10.80" text-anchor="start">WAMIT-ref.</text>
<path d="M146.40,36.90 H176.40" stroke="#9dbbe6" stroke-width="1.2"/>
<circle cx="161.40" cy="36.90" r="1.2" fill="#4472c4"/>
<text x="180.40" y="40.50" font-size="10.80" text-anchor="start">Aqwa-ref.</text>
<path d="M146.40,51.80 H176.40" stroke="#4472c4" stroke-width="1.8"/>
<text x="180.40" y="55.40" font-size="10.80" text-anchor="start">Aqwa-present</text>
<path d="M146.40,66.70 H176.40" stroke="#000000" stroke-width="1.8"/>
<text x="180.40" y="70.30" font-size="10.80" text-anchor="start">Orcawave-present</text>
<path d="M323.40,50.00 L326.90,37.10 L330.80,43.50 L334.80,48.50 L338.00,51.60 L340.90,53.90 L344.50,56.60 L349.90,55.70 L355.30,48.10 L359.50,38.00 L364.90,28.20 L369.20,34.90 L370.30,37.60 L372.50,43.00 L374.30,51.70 L375.70,60.20 L377.00,64.70 L378.80,71.00 L381.10,75.00 L383.90,70.90 L385.50,68.30 L388.40,62.50 L390.50,58.20 L393.10,53.90 L395.40,53.10 L398.20,56.20 L400.80,61.60 L402.90,64.70 L405.50,72.10 L407.50,74.70 L411.60,82.80 L416.20,89.30 L419.00,94.50 L420.70,102.70 L422.30,107.90 L425.20,118.20 L428.90,112.00 L432.60,105.80 L436.20,100.70 L440.30,97.60 L444.10,94.00 L448.60,90.60 L452.00,89.80 L455.30,89.10 L462.00,87.60 L468.60,84.90 L472.00,84.30 L475.30,83.70 L483.90,83.70 L490.60,83.00 L493.50,82.70 L496.30,82.40 L503.00,81.50 L509.70,81.50 L516.30,80.10" fill="none" stroke="#ff0000" stroke-width="0.90" stroke-linejoin="round"/>
<circle cx="323.40" cy="50.00" r="2.20" fill="#ff0000"/>
<circle cx="326.90" cy="37.10" r="2.20" fill="#ff0000"/>
<circle cx="330.80" cy="43.50" r="2.20" fill="#ff0000"/>
<circle cx="334.80" cy="48.50" r="2.20" fill="#ff0000"/>
<circle cx="338.00" cy="51.60" r="2.20" fill="#ff0000"/>
<circle cx="340.90" cy="53.90" r="2.20" fill="#ff0000"/>
<circle cx="344.50" cy="56.60" r="2.20" fill="#ff0000"/>
<circle cx="349.90" cy="55.70" r="2.20" fill="#ff0000"/>
<circle cx="355.30" cy="48.10" r="2.20" fill="#ff0000"/>
<circle cx="359.50" cy="38.00" r="2.20" fill="#ff0000"/>
<circle cx="364.90" cy="28.20" r="2.20" fill="#ff0000"/>
<circle cx="369.20" cy="34.90" r="2.20" fill="#ff0000"/>
<circle cx="370.30" cy="37.60" r="2.20" fill="#ff0000"/>
<circle cx="372.50" cy="43.00" r="2.20" fill="#ff0000"/>
<circle cx="374.30" cy="51.70" r="2.20" fill="#ff0000"/>
<circle cx="375.70" cy="60.20" r="2.20" fill="#ff0000"/>
<circle cx="377.00" cy="64.70" r="2.20" fill="#ff0000"/>
<circle cx="378.80" cy="71.00" r="2.20" fill="#ff0000"/>
<circle cx="381.10" cy="75.00" r="2.20" fill="#ff0000"/>
<circle cx="383.90" cy="70.90" r="2.20" fill="#ff0000"/>
<circle cx="385.50" cy="68.30" r="2.20" fill="#ff0000"/>
<circle cx="388.40" cy="62.50" r="2.20" fill="#ff0000"/>
<circle cx="390.50" cy="58.20" r="2.20" fill="#ff0000"/>
<circle cx="393.10" cy="53.90" r="2.20" fill="#ff0000"/>
<circle cx="395.40" cy="53.10" r="2.20" fill="#ff0000"/>
<circle cx="398.20" cy="56.20" r="2.20" fill="#ff0000"/>
<circle cx="400.80" cy="61.60" r="2.20" fill="#ff0000"/>
<circle cx="402.90" cy="64.70" r="2.20" fill="#ff0000"/>
<circle cx="405.50" cy="72.10" r="2.20" fill="#ff0000"/>
<circle cx="407.50" cy="74.70" r="2.20" fill="#ff0000"/>
<circle cx="411.60" cy="82.80" r="2.20" fill="#ff0000"/>
<circle cx="416.20" cy="89.30" r="2.20" fill="#ff0000"/>
<circle cx="419.00" cy="94.50" r="2.20" fill="#ff0000"/>
<circle cx="420.70" cy="102.70" r="2.20" fill="#ff0000"/>
<circle cx="422.30" cy="107.90" r="2.20" fill="#ff0000"/>
<circle cx="425.20" cy="118.20" r="2.20" fill="#ff0000"/>
<circle cx="428.90" cy="112.00" r="2.20" fill="#ff0000"/>
<circle cx="432.60" cy="105.80" r="2.20" fill="#ff0000"/>
<circle cx="436.20" cy="100.70" r="2.20" fill="#ff0000"/>
<circle cx="440.30" cy="97.60" r="2.20" fill="#ff0000"/>
<circle cx="444.10" cy="94.00" r="2.20" fill="#ff0000"/>
<circle cx="448.60" cy="90.60" r="2.20" fill="#ff0000"/>
<circle cx="452.00" cy="89.80" r="2.20" fill="#ff0000"/>
<circle cx="455.30" cy="89.10" r="2.20" fill="#ff0000"/>
<circle cx="462.00" cy="87.60" r="2.20" fill="#ff0000"/>
<circle cx="468.60" cy="84.90" r="2.20" fill="#ff0000"/>
<circle cx="472.00" cy="84.30" r="2.20" fill="#ff0000"/>
<circle cx="475.30" cy="83.70" r="2.20" fill="#ff0000"/>
<circle cx="483.90" cy="83.70" r="2.20" fill="#ff0000"/>
<circle cx="490.60" cy="83.00" r="2.20" fill="#ff0000"/>
<circle cx="493.50" cy="82.70" r="2.20" fill="#ff0000"/>
<circle cx="496.30" cy="82.40" r="2.20" fill="#ff0000"/>
<circle cx="503.00" cy="81.50" r="2.20" fill="#ff0000"/>
<circle cx="509.70" cy="81.50" r="2.20" fill="#ff0000"/>
<circle cx="516.30" cy="80.10" r="2.20" fill="#ff0000"/>
<path d="M322.80,47.70 L326.70,50.30 L330.30,55.30 L334.40,59.60 L338.60,64.70 L344.20,67.60 L349.90,66.60 L354.40,59.50 L359.90,48.70 L364.90,41.20 L368.90,47.80 L372.50,56.00 L376.10,73.50 L380.50,83.30 L384.40,76.00 L388.20,68.60 L392.10,62.80 L396.00,67.30 L399.80,74.40 L405.00,84.10 L410.10,93.00 L415.50,100.00 L418.60,110.90 L422.70,117.10 L425.80,121.20 L431.00,113.00 L437.20,106.00 L443.40,103.00 L450.00,99.00 L459.10,92.90 L468.60,91.00 L487.70,89.10 L503.00,87.60 L516.30,89.50" fill="none" stroke="#9dbbe6" stroke-width="1.20" stroke-linejoin="round"/>
<circle cx="322.80" cy="47.70" r="1.50" fill="#4472c4"/>
<circle cx="326.54" cy="50.20" r="1.50" fill="#4472c4"/>
<circle cx="329.22" cy="53.80" r="1.50" fill="#4472c4"/>
<circle cx="332.13" cy="57.22" r="1.50" fill="#4472c4"/>
<circle cx="335.17" cy="60.53" r="1.50" fill="#4472c4"/>
<circle cx="338.03" cy="64.01" r="1.50" fill="#4472c4"/>
<circle cx="341.80" cy="66.36" r="1.50" fill="#4472c4"/>
<circle cx="345.97" cy="67.29" r="1.50" fill="#4472c4"/>
<circle cx="350.17" cy="66.17" r="1.50" fill="#4472c4"/>
<circle cx="352.58" cy="62.37" r="1.50" fill="#4472c4"/>
<circle cx="354.90" cy="58.52" r="1.50" fill="#4472c4"/>
<circle cx="356.94" cy="54.51" r="1.50" fill="#4472c4"/>
<circle cx="358.99" cy="50.50" r="1.50" fill="#4472c4"/>
<circle cx="361.28" cy="46.63" r="1.50" fill="#4472c4"/>
<circle cx="363.77" cy="42.89" r="1.50" fill="#4472c4"/>
<circle cx="366.18" cy="43.31" r="1.50" fill="#4472c4"/>
<circle cx="368.51" cy="47.16" r="1.50" fill="#4472c4"/>
<circle cx="370.41" cy="51.24" r="1.50" fill="#4472c4"/>
<circle cx="372.22" cy="55.36" r="1.50" fill="#4472c4"/>
<circle cx="373.27" cy="59.72" r="1.50" fill="#4472c4"/>
<circle cx="374.17" cy="64.13" r="1.50" fill="#4472c4"/>
<circle cx="375.08" cy="68.53" r="1.50" fill="#4472c4"/>
<circle cx="375.99" cy="72.94" r="1.50" fill="#4472c4"/>
<circle cx="377.71" cy="77.09" r="1.50" fill="#4472c4"/>
<circle cx="379.55" cy="81.19" r="1.50" fill="#4472c4"/>
<circle cx="381.53" cy="81.37" r="1.50" fill="#4472c4"/>
<circle cx="383.65" cy="77.40" r="1.50" fill="#4472c4"/>
<circle cx="385.73" cy="73.41" r="1.50" fill="#4472c4"/>
<circle cx="387.79" cy="69.41" r="1.50" fill="#4472c4"/>
<circle cx="390.21" cy="65.62" r="1.50" fill="#4472c4"/>
<circle cx="392.82" cy="63.63" r="1.50" fill="#4472c4"/>
<circle cx="395.77" cy="67.03" r="1.50" fill="#4472c4"/>
<circle cx="397.96" cy="70.96" r="1.50" fill="#4472c4"/>
<circle cx="400.08" cy="74.93" r="1.50" fill="#4472c4"/>
<circle cx="402.21" cy="78.89" r="1.50" fill="#4472c4"/>
<circle cx="404.33" cy="82.86" r="1.50" fill="#4472c4"/>
<circle cx="406.54" cy="86.78" r="1.50" fill="#4472c4"/>
<circle cx="408.77" cy="90.69" r="1.50" fill="#4472c4"/>
<circle cx="411.22" cy="94.45" r="1.50" fill="#4472c4"/>
<circle cx="413.97" cy="98.01" r="1.50" fill="#4472c4"/>
<circle cx="416.04" cy="101.92" r="1.50" fill="#4472c4"/>
<circle cx="417.28" cy="106.24" r="1.50" fill="#4472c4"/>
<circle cx="418.51" cy="110.57" r="1.50" fill="#4472c4"/>
<circle cx="420.89" cy="114.37" r="1.50" fill="#4472c4"/>
<circle cx="423.44" cy="118.08" r="1.50" fill="#4472c4"/>
<circle cx="426.11" cy="120.70" r="1.50" fill="#4472c4"/>
<circle cx="428.52" cy="116.90" r="1.50" fill="#4472c4"/>
<circle cx="430.93" cy="113.10" r="1.50" fill="#4472c4"/>
<circle cx="433.90" cy="109.72" r="1.50" fill="#4472c4"/>
<circle cx="436.89" cy="106.35" r="1.50" fill="#4472c4"/>
<circle cx="440.82" cy="104.25" r="1.50" fill="#4472c4"/>
<circle cx="444.80" cy="102.15" r="1.50" fill="#4472c4"/>
<circle cx="448.65" cy="99.82" r="1.50" fill="#4472c4"/>
<circle cx="452.43" cy="97.37" r="1.50" fill="#4472c4"/>
<circle cx="456.16" cy="94.87" r="1.50" fill="#4472c4"/>
<circle cx="460.05" cy="92.71" r="1.50" fill="#4472c4"/>
<circle cx="464.46" cy="91.83" r="1.50" fill="#4472c4"/>
<circle cx="468.88" cy="90.97" r="1.50" fill="#4472c4"/>
<circle cx="473.35" cy="90.53" r="1.50" fill="#4472c4"/>
<circle cx="477.83" cy="90.08" r="1.50" fill="#4472c4"/>
<circle cx="482.31" cy="89.64" r="1.50" fill="#4472c4"/>
<circle cx="486.79" cy="89.19" r="1.50" fill="#4472c4"/>
<circle cx="491.27" cy="88.75" r="1.50" fill="#4472c4"/>
<circle cx="495.74" cy="88.31" r="1.50" fill="#4472c4"/>
<circle cx="500.22" cy="87.87" r="1.50" fill="#4472c4"/>
<circle cx="504.69" cy="87.84" r="1.50" fill="#4472c4"/>
<circle cx="509.15" cy="88.48" r="1.50" fill="#4472c4"/>
<circle cx="513.60" cy="89.11" r="1.50" fill="#4472c4"/>
<circle cx="516.30" cy="89.50" r="1.50" fill="#4472c4"/>
<path d="M330.00,51.30 L335.00,55.50 L340.00,61.10 L344.00,64.00 L347.20,64.70 L350.50,62.00 L354.40,57.50 L359.90,46.70 L364.90,39.10 L368.90,45.80 L372.50,53.90 L376.10,71.50 L380.50,81.20 L384.40,74.30 L388.20,66.60 L392.10,60.80 L396.00,65.30 L399.80,72.40 L405.00,82.10 L410.10,91.00 L415.50,98.00 L418.60,108.90 L422.70,115.10 L425.80,119.70 L431.00,111.00 L437.20,103.80 L440.00,101.50 L444.00,99.50 L449.50,95.50 L459.10,91.40 L468.60,89.10 L478.20,87.70 L487.70,87.20 L497.30,87.20 L506.80,87.20 L516.30,87.60 L525.90,86.20 L533.50,85.60 L540.20,86.60" fill="none" stroke="#4472c4" stroke-width="2.00" stroke-linejoin="round" stroke-linecap="butt"/>
<path d="M337.60,73.30 L340.00,74.60 L343.00,76.00 L346.00,76.90 L348.50,76.20 L350.60,73.40 L354.40,64.70 L359.90,53.90 L363.50,50.30 L366.20,52.10 L367.60,55.00 L371.50,69.20 L375.30,83.40 L379.80,93.70 L384.40,83.40 L388.20,73.70 L392.10,67.30 L396.00,71.80 L399.80,80.20 L403.70,88.50 L407.00,95.30 L413.00,105.50 L419.40,118.40 L424.80,146.10 L431.00,135.80 L436.20,124.40 L443.40,119.30 L452.40,114.30" fill="none" stroke="#000000" stroke-width="2.00" stroke-linejoin="round" stroke-linecap="butt"/>
<path d="M322.60,12.50 H540.50 V163.00 H322.60 Z" fill="none" stroke="#000" stroke-width="1.30"/>
<text x="314.00" y="15.80" font-size="9.30" text-anchor="end">1.55</text>
<path d="M322.60,29.22 h3" stroke="#000" stroke-width="0.8"/>
<text x="314.00" y="32.52" font-size="9.30" text-anchor="end">1.53</text>
<path d="M322.60,45.94 h3" stroke="#000" stroke-width="0.8"/>
<text x="314.00" y="49.24" font-size="9.30" text-anchor="end">1.51</text>
<path d="M322.60,62.67 h3" stroke="#000" stroke-width="0.8"/>
<text x="314.00" y="65.97" font-size="9.30" text-anchor="end">1.49</text>
<path d="M322.60,79.39 h3" stroke="#000" stroke-width="0.8"/>
<text x="314.00" y="82.69" font-size="9.30" text-anchor="end">1.47</text>
<path d="M322.60,96.11 h3" stroke="#000" stroke-width="0.8"/>
<text x="314.00" y="99.41" font-size="9.30" text-anchor="end">1.45</text>
<path d="M322.60,112.83 h3" stroke="#000" stroke-width="0.8"/>
<text x="314.00" y="116.13" font-size="9.30" text-anchor="end">1.43</text>
<path d="M322.60,129.56 h3" stroke="#000" stroke-width="0.8"/>
<text x="314.00" y="132.86" font-size="9.30" text-anchor="end">1.41</text>
<path d="M322.60,146.28 h3" stroke="#000" stroke-width="0.8"/>
<text x="314.00" y="149.58" font-size="9.30" text-anchor="end">1.39</text>
<text x="314.00" y="166.30" font-size="9.30" text-anchor="end">1.37</text>
<text x="322.60" y="179.00" font-size="10.00" text-anchor="middle">0</text>
<path d="M371.02,163.00 v-3" stroke="#000" stroke-width="0.8"/>
<text x="371.02" y="179.00" font-size="10.00" text-anchor="middle">0.1</text>
<path d="M419.44,163.00 v-3" stroke="#000" stroke-width="0.8"/>
<text x="419.44" y="179.00" font-size="10.00" text-anchor="middle">0.2</text>
<path d="M467.87,163.00 v-3" stroke="#000" stroke-width="0.8"/>
<text x="467.87" y="179.00" font-size="10.00" text-anchor="middle">0.3</text>
<path d="M516.29,163.00 v-3" stroke="#000" stroke-width="0.8"/>
<text x="516.29" y="179.00" font-size="10.00" text-anchor="middle">0.4</text>
<text x="431.55" y="189.40" font-size="10.70" text-anchor="middle">Frequency (Hz)</text>
<text transform="translate(294.00,93.20) rotate(-90)" font-size="10.85" text-anchor="middle">Added mass A<tspan font-size="6.5" dy="2">33</tspan><tspan dy="-2"> (kg)</tspan></text>
<text transform="translate(296.20,32.30) rotate(-90)" font-size="9.50" text-anchor="start">&#215;<tspan dx="1.3"> 10</tspan><tspan font-size="5.70" dy="-3.5">7</tspan></text>
<path d="M424.10,22.40 H454.10" stroke="#ff0000" stroke-width="0.9"/>
<circle cx="439.10" cy="22.40" r="1.9" fill="#ff0000"/>
<text x="458.30" y="26.00" font-size="10.80" text-anchor="start">WAMIT-ref.</text>
<path d="M424.10,36.90 H454.10" stroke="#9dbbe6" stroke-width="1.2"/>
<circle cx="439.10" cy="36.90" r="1.2" fill="#4472c4"/>
<text x="458.30" y="40.50" font-size="10.80" text-anchor="start">Aqwa-ref.</text>
<path d="M424.10,51.80 H454.10" stroke="#4472c4" stroke-width="1.8"/>
<text x="458.30" y="55.40" font-size="10.80" text-anchor="start">Aqwa-present</text>
<path d="M424.10,66.70 H454.10" stroke="#000000" stroke-width="1.8"/>
<text x="458.30" y="70.30" font-size="10.80" text-anchor="start">Orcawave-present</text>
<path d="M46.00,257.90 L46.30,257.88 L46.68,257.85 L47.11,257.81 L47.61,257.77 L48.15,257.73 L48.73,257.69 L49.33,257.64 L49.95,257.59 L50.58,257.55 L51.20,257.50 L51.85,257.46 L52.54,257.41 L53.27,257.37 L54.02,257.33 L54.79,257.28 L55.55,257.23 L56.31,257.18 L57.04,257.13 L57.74,257.07 L58.40,257.00 L59.01,256.93 L59.59,256.86 L60.15,256.79 L60.68,256.71 L61.21,256.63 L61.72,256.54 L62.23,256.45 L62.74,256.34 L63.26,256.23 L63.80,256.10 L64.34,255.97 L64.88,255.83 L65.42,255.70 L65.95,255.55 L66.49,255.39 L67.04,255.22 L67.59,255.03 L68.15,254.82 L68.72,254.57 L69.30,254.30 L69.90,253.99 L70.51,253.64 L71.13,253.26 L71.76,252.86 L72.40,252.44 L73.04,252.01 L73.68,251.58 L74.33,251.14 L74.97,250.71 L75.60,250.30 L76.23,249.89 L76.86,249.47 L77.49,249.05 L78.12,248.62 L78.75,248.19 L79.38,247.77 L80.01,247.36 L80.64,246.96 L81.27,246.57 L81.90,246.20 L82.54,245.83 L83.19,245.43 L83.85,245.03 L84.51,244.63 L85.16,244.26 L85.81,243.91 L86.44,243.61 L87.06,243.36 L87.64,243.19 L88.20,243.10 L88.72,243.07 L89.20,243.09 L89.65,243.16 L90.09,243.27 L90.51,243.44 L90.92,243.68 L91.34,243.97 L91.77,244.34 L92.22,244.78 L92.70,245.30 L93.20,245.91 L93.72,246.61 L94.25,247.39 L94.80,248.24 L95.34,249.15 L95.90,250.11 L96.45,251.12 L97.01,252.16 L97.56,253.22 L98.10,254.30 L98.65,255.44 L99.21,256.68 L99.78,257.99 L100.36,259.35 L100.92,260.73 L101.48,262.10 L102.03,263.43 L102.55,264.69 L103.04,265.85 L103.50,266.90 L103.92,267.83 L104.30,268.66 L104.65,269.42 L104.98,270.12 L105.29,270.77 L105.60,271.39 L105.91,271.98 L106.22,272.58 L106.55,273.18 L106.90,273.80 L107.27,274.44 L107.65,275.08 L108.03,275.72 L108.42,276.34 L108.82,276.96 L109.22,277.55 L109.61,278.13 L110.01,278.68 L110.41,279.21 L110.80,279.70 L111.19,280.18 L111.57,280.67 L111.95,281.16 L112.33,281.62 L112.71,282.06 L113.10,282.45 L113.49,282.78 L113.88,283.04 L114.29,283.22 L114.70,283.30 L115.13,283.27 L115.58,283.15 L116.05,282.93 L116.52,282.65 L116.99,282.31 L117.46,281.92 L117.93,281.52 L118.37,281.10 L118.80,280.69 L119.20,280.30 L119.57,279.91 L119.93,279.48 L120.26,279.03 L120.58,278.56 L120.89,278.09 L121.20,277.61 L121.50,277.13 L121.79,276.67 L122.09,276.22 L122.40,275.80 L122.70,275.37 L122.99,274.92 L123.26,274.45 L123.53,273.98 L123.81,273.54 L124.09,273.13 L124.38,272.77 L124.69,272.49 L125.03,272.29 L125.40,272.20 L125.80,272.21 L126.24,272.32 L126.71,272.50 L127.20,272.75 L127.69,273.06 L128.20,273.42 L128.70,273.81 L129.18,274.23 L129.65,274.66 L130.10,275.10 L130.52,275.57 L130.93,276.09 L131.33,276.66 L131.72,277.25 L132.10,277.88 L132.48,278.51 L132.86,279.13 L133.23,279.75 L133.61,280.34 L134.00,280.90 L134.38,281.44 L134.75,281.97 L135.11,282.50 L135.47,283.02 L135.83,283.53 L136.20,284.03 L136.59,284.51 L137.00,284.96 L137.43,285.40 L137.90,285.80 L138.40,286.19 L138.93,286.57 L139.48,286.93 L140.05,287.28 L140.64,287.60 L141.25,287.90 L141.86,288.16 L142.47,288.38 L143.09,288.56 L143.70,288.70 L144.32,288.78 L144.94,288.82 L145.57,288.81 L146.21,288.77 L146.86,288.69 L147.50,288.58 L148.15,288.46 L148.80,288.31 L149.45,288.16 L150.10,288.00 L150.75,287.82 L151.40,287.60 L152.05,287.36 L152.70,287.09 L153.35,286.81 L154.00,286.53 L154.65,286.25 L155.30,285.98 L155.95,285.73 L156.60,285.50 L157.25,285.29 L157.90,285.10 L158.55,284.91 L159.21,284.72 L159.86,284.55 L160.50,284.38 L161.14,284.23 L161.77,284.08 L162.39,283.93 L163.00,283.80 L163.59,283.68 L164.17,283.58 L164.74,283.48 L165.29,283.40 L165.84,283.32 L166.39,283.25 L166.94,283.17 L167.49,283.09 L168.04,283.00 L168.60,282.90 L169.15,282.79 L169.69,282.68 L170.21,282.56 L170.73,282.44 L171.26,282.31 L171.81,282.18 L172.37,282.05 L172.97,281.90 L173.61,281.76 L174.30,281.60 L175.05,281.43 L175.86,281.25 L176.73,281.05 L177.62,280.85 L178.54,280.64 L179.46,280.44 L180.37,280.24 L181.26,280.04 L182.10,279.86 L182.90,279.70 L183.63,279.55 L184.30,279.41 L184.93,279.27 L185.53,279.15 L186.13,279.02 L186.74,278.91 L187.37,278.80 L188.05,278.70 L188.78,278.60 L189.60,278.50 L190.51,278.41 L191.50,278.32 L192.56,278.24 L193.67,278.16 L194.79,278.09 L195.93,278.02 L197.04,277.96 L198.12,277.90 L199.15,277.85 L200.10,277.80 L200.98,277.76 L201.82,277.74 L202.62,277.72 L203.39,277.71 L204.14,277.71 L204.86,277.70 L205.58,277.69 L206.28,277.67 L206.99,277.64 L207.70,277.60 L208.40,277.54 L209.08,277.47 L209.75,277.39 L210.40,277.30 L211.05,277.21 L211.70,277.12 L212.35,277.03 L213.02,276.94 L213.70,276.87 L214.40,276.80 L215.13,276.74 L215.88,276.70 L216.64,276.66 L217.42,276.62 L218.20,276.59 L218.98,276.56 L219.76,276.52 L220.52,276.49 L221.27,276.45 L222.00,276.40 L222.71,276.35 L223.40,276.28 L224.08,276.22 L224.74,276.15 L225.41,276.07 L226.06,276.01 L226.72,275.94 L227.37,275.88 L228.03,275.84 L228.70,275.80 L229.38,275.77 L230.07,275.76 L230.77,275.75 L231.47,275.75 L232.17,275.75 L232.86,275.76 L233.53,275.77 L234.18,275.78 L234.81,275.79 L235.40,275.80 L235.98,275.81 L236.56,275.83 L237.13,275.85 L237.69,275.88 L238.22,275.90 L238.72,275.92 L239.17,275.95 L239.58,275.97 L239.92,275.99 L240.20,276.00" fill="none" stroke="#ff0000" stroke-width="0.90" stroke-linejoin="round"/>
<circle cx="46.00" cy="257.90" r="2.20" fill="#ff0000"/>
<circle cx="51.48" cy="257.48" r="2.20" fill="#ff0000"/>
<circle cx="56.97" cy="257.13" r="2.20" fill="#ff0000"/>
<circle cx="62.42" cy="256.41" r="2.20" fill="#ff0000"/>
<circle cx="67.73" cy="254.98" r="2.20" fill="#ff0000"/>
<circle cx="72.54" cy="252.35" r="2.20" fill="#ff0000"/>
<circle cx="77.12" cy="249.30" r="2.20" fill="#ff0000"/>
<circle cx="81.73" cy="246.30" r="2.20" fill="#ff0000"/>
<circle cx="86.51" cy="243.58" r="2.20" fill="#ff0000"/>
<circle cx="91.63" cy="244.22" r="2.20" fill="#ff0000"/>
<circle cx="94.98" cy="248.55" r="2.20" fill="#ff0000"/>
<circle cx="97.63" cy="253.37" r="2.20" fill="#ff0000"/>
<circle cx="99.94" cy="258.36" r="2.20" fill="#ff0000"/>
<circle cx="102.04" cy="263.45" r="2.20" fill="#ff0000"/>
<circle cx="104.22" cy="268.49" r="2.20" fill="#ff0000"/>
<circle cx="106.68" cy="273.41" r="2.20" fill="#ff0000"/>
<circle cx="109.58" cy="278.08" r="2.20" fill="#ff0000"/>
<circle cx="113.02" cy="282.37" r="2.20" fill="#ff0000"/>
<circle cx="117.76" cy="281.67" r="2.20" fill="#ff0000"/>
<circle cx="121.28" cy="277.48" r="2.20" fill="#ff0000"/>
<circle cx="124.29" cy="272.88" r="2.20" fill="#ff0000"/>
<circle cx="129.02" cy="274.09" r="2.20" fill="#ff0000"/>
<circle cx="132.40" cy="278.38" r="2.20" fill="#ff0000"/>
<circle cx="135.43" cy="282.97" r="2.20" fill="#ff0000"/>
<circle cx="139.30" cy="286.81" r="2.20" fill="#ff0000"/>
<circle cx="144.38" cy="288.79" r="2.20" fill="#ff0000"/>
<circle cx="149.80" cy="288.07" r="2.20" fill="#ff0000"/>
<circle cx="154.94" cy="286.13" r="2.20" fill="#ff0000"/>
<circle cx="160.18" cy="284.47" r="2.20" fill="#ff0000"/>
<circle cx="165.56" cy="283.36" r="2.20" fill="#ff0000"/>
<circle cx="170.97" cy="282.38" r="2.20" fill="#ff0000"/>
<circle cx="176.33" cy="281.14" r="2.20" fill="#ff0000"/>
<circle cx="181.70" cy="279.95" r="2.20" fill="#ff0000"/>
<circle cx="187.09" cy="278.85" r="2.20" fill="#ff0000"/>
<circle cx="192.55" cy="278.24" r="2.20" fill="#ff0000"/>
<circle cx="198.04" cy="277.90" r="2.20" fill="#ff0000"/>
<circle cx="203.54" cy="277.71" r="2.20" fill="#ff0000"/>
<circle cx="209.03" cy="277.48" r="2.20" fill="#ff0000"/>
<circle cx="214.49" cy="276.79" r="2.20" fill="#ff0000"/>
<circle cx="219.98" cy="276.51" r="2.20" fill="#ff0000"/>
<circle cx="225.46" cy="276.07" r="2.20" fill="#ff0000"/>
<circle cx="230.95" cy="275.75" r="2.20" fill="#ff0000"/>
<circle cx="236.45" cy="275.83" r="2.20" fill="#ff0000"/>
<circle cx="240.20" cy="276.00" r="2.20" fill="#ff0000"/>
<path d="M46.00,309.00 L46.59,308.97 L47.33,308.92 L48.20,308.87 L49.18,308.81 L50.25,308.75 L51.38,308.68 L52.54,308.61 L53.71,308.54 L54.87,308.47 L56.00,308.40 L57.12,308.33 L58.27,308.27 L59.45,308.20 L60.66,308.13 L61.88,308.06 L63.10,307.99 L64.34,307.91 L65.57,307.81 L66.79,307.71 L68.00,307.60 L69.22,307.48 L70.48,307.34 L71.75,307.20 L73.03,307.05 L74.29,306.89 L75.54,306.72 L76.75,306.55 L77.90,306.37 L78.99,306.19 L80.00,306.00 L80.92,305.81 L81.76,305.60 L82.54,305.39 L83.26,305.18 L83.95,304.96 L84.61,304.73 L85.27,304.50 L85.92,304.27 L86.60,304.03 L87.30,303.80 L88.02,303.55 L88.74,303.29 L89.46,303.02 L90.18,302.74 L90.90,302.46 L91.62,302.19 L92.34,301.93 L93.06,301.70 L93.78,301.48 L94.50,301.30 L95.23,301.14 L95.95,301.00 L96.68,300.87 L97.41,300.75 L98.14,300.66 L98.88,300.58 L99.61,300.52 L100.34,300.49 L101.07,300.48 L101.80,300.50 L102.54,300.54 L103.28,300.61 L104.04,300.70 L104.79,300.81 L105.54,300.94 L106.29,301.09 L107.02,301.26 L107.74,301.46 L108.43,301.67 L109.10,301.90 L109.74,302.15 L110.37,302.41 L110.97,302.70 L111.56,303.00 L112.14,303.33 L112.70,303.67 L113.26,304.04 L113.81,304.43 L114.36,304.85 L114.90,305.30 L115.44,305.78 L115.96,306.28 L116.48,306.82 L116.99,307.38 L117.49,307.96 L117.99,308.56 L118.49,309.17 L118.99,309.81 L119.49,310.45 L120.00,311.10 L120.51,311.79 L121.02,312.53 L121.53,313.32 L122.04,314.12 L122.55,314.93 L123.06,315.72 L123.57,316.49 L124.08,317.20 L124.59,317.84 L125.10,318.40 L125.61,318.88 L126.12,319.32 L126.63,319.71 L127.14,320.05 L127.65,320.36 L128.16,320.62 L128.67,320.84 L129.18,321.03 L129.69,321.18 L130.20,321.30 L130.70,321.38 L131.19,321.40 L131.66,321.37 L132.14,321.31 L132.62,321.21 L133.11,321.09 L133.62,320.95 L134.15,320.80 L134.70,320.65 L135.30,320.50 L135.93,320.35 L136.60,320.18 L137.30,319.99 L138.02,319.79 L138.76,319.58 L139.51,319.36 L140.27,319.13 L141.02,318.89 L141.77,318.65 L142.50,318.40 L143.23,318.14 L143.98,317.85 L144.73,317.54 L145.48,317.23 L146.24,316.91 L146.98,316.60 L147.72,316.29 L148.43,316.00 L149.13,315.74 L149.80,315.50 L150.45,315.28 L151.08,315.05 L151.69,314.83 L152.30,314.62 L152.88,314.43 L153.45,314.27 L154.01,314.13 L154.55,314.04 L155.08,313.99 L155.60,314.00 L156.11,314.07 L156.60,314.22 L157.08,314.41 L157.55,314.65 L158.01,314.92 L158.44,315.20 L158.86,315.48 L159.26,315.75 L159.64,316.00 L160.00,316.20 L160.30,316.36 L160.53,316.47 L160.70,316.57 L160.85,316.64 L161.00,316.73 L161.17,316.82 L161.38,316.94 L161.65,317.10 L162.02,317.32 L162.50,317.60 L163.09,317.99 L163.77,318.50 L164.52,319.08 L165.33,319.72 L166.20,320.37 L167.11,321.00 L168.04,321.57 L168.99,322.05 L169.95,322.40 L170.90,322.60 L171.86,322.63 L172.83,322.53 L173.83,322.32 L174.85,322.02 L175.89,321.66 L176.96,321.26 L178.04,320.84 L179.14,320.43 L180.26,320.04 L181.40,319.70 L182.59,319.37 L183.84,319.01 L185.13,318.63 L186.45,318.24 L187.78,317.85 L189.10,317.48 L190.39,317.15 L191.63,316.87 L192.81,316.65 L193.90,316.50 L194.90,316.44 L195.81,316.45 L196.66,316.52 L197.46,316.64 L198.23,316.80 L198.99,316.98 L199.76,317.16 L200.56,317.33 L201.40,317.48 L202.30,317.60 L203.27,317.69 L204.28,317.79 L205.34,317.88 L206.41,317.97 L207.50,318.06 L208.59,318.14 L209.66,318.21 L210.72,318.28 L211.73,318.35 L212.70,318.40 L213.62,318.44 L214.51,318.46 L215.37,318.46 L216.21,318.46 L217.03,318.46 L217.84,318.46 L218.65,318.46 L219.46,318.49 L220.27,318.53 L221.10,318.60 L221.92,318.71 L222.73,318.87 L223.53,319.06 L224.32,319.26 L225.12,319.47 L225.93,319.67 L226.75,319.84 L227.60,319.98 L228.48,320.07 L229.40,320.10 L230.41,320.05 L231.53,319.94 L232.72,319.77 L233.95,319.57 L235.17,319.34 L236.35,319.11 L237.45,318.89 L238.44,318.68 L239.27,318.52 L239.90,318.40" fill="none" stroke="#9dbbe6" stroke-width="1.20" stroke-linejoin="round"/>
<circle cx="46.00" cy="309.00" r="1.40" fill="#4472c4"/>
<circle cx="50.49" cy="308.74" r="1.40" fill="#4472c4"/>
<circle cx="54.98" cy="308.46" r="1.40" fill="#4472c4"/>
<circle cx="59.48" cy="308.20" r="1.40" fill="#4472c4"/>
<circle cx="63.97" cy="307.93" r="1.40" fill="#4472c4"/>
<circle cx="68.45" cy="307.55" r="1.40" fill="#4472c4"/>
<circle cx="72.92" cy="307.06" r="1.40" fill="#4472c4"/>
<circle cx="77.38" cy="306.45" r="1.40" fill="#4472c4"/>
<circle cx="81.80" cy="305.59" r="1.40" fill="#4472c4"/>
<circle cx="86.08" cy="304.21" r="1.40" fill="#4472c4"/>
<circle cx="90.31" cy="302.69" r="1.40" fill="#4472c4"/>
<circle cx="94.58" cy="301.28" r="1.40" fill="#4472c4"/>
<circle cx="99.02" cy="300.57" r="1.40" fill="#4472c4"/>
<circle cx="103.51" cy="300.63" r="1.40" fill="#4472c4"/>
<circle cx="107.92" cy="301.51" r="1.40" fill="#4472c4"/>
<circle cx="112.05" cy="303.28" r="1.40" fill="#4472c4"/>
<circle cx="115.64" cy="305.97" r="1.40" fill="#4472c4"/>
<circle cx="118.62" cy="309.34" r="1.40" fill="#4472c4"/>
<circle cx="121.29" cy="312.96" r="1.40" fill="#4472c4"/>
<circle cx="123.74" cy="316.73" r="1.40" fill="#4472c4"/>
<circle cx="126.90" cy="319.89" r="1.40" fill="#4472c4"/>
<circle cx="131.09" cy="321.39" r="1.40" fill="#4472c4"/>
<circle cx="135.47" cy="320.46" r="1.40" fill="#4472c4"/>
<circle cx="139.81" cy="319.27" r="1.40" fill="#4472c4"/>
<circle cx="144.07" cy="317.81" r="1.40" fill="#4472c4"/>
<circle cx="148.23" cy="316.09" r="1.40" fill="#4472c4"/>
<circle cx="152.46" cy="314.57" r="1.40" fill="#4472c4"/>
<circle cx="156.84" cy="314.32" r="1.40" fill="#4472c4"/>
<circle cx="160.73" cy="316.58" r="1.40" fill="#4472c4"/>
<circle cx="164.48" cy="319.05" r="1.40" fill="#4472c4"/>
<circle cx="168.16" cy="321.63" r="1.40" fill="#4472c4"/>
<circle cx="172.47" cy="322.57" r="1.40" fill="#4472c4"/>
<circle cx="176.78" cy="321.33" r="1.40" fill="#4472c4"/>
<circle cx="181.02" cy="319.81" r="1.40" fill="#4472c4"/>
<circle cx="185.34" cy="318.56" r="1.40" fill="#4472c4"/>
<circle cx="189.67" cy="317.34" r="1.40" fill="#4472c4"/>
<circle cx="194.08" cy="316.49" r="1.40" fill="#4472c4"/>
<circle cx="198.55" cy="316.87" r="1.40" fill="#4472c4"/>
<circle cx="202.97" cy="317.67" r="1.40" fill="#4472c4"/>
<circle cx="207.45" cy="318.05" r="1.40" fill="#4472c4"/>
<circle cx="211.94" cy="318.36" r="1.40" fill="#4472c4"/>
<circle cx="216.44" cy="318.46" r="1.40" fill="#4472c4"/>
<circle cx="220.94" cy="318.59" r="1.40" fill="#4472c4"/>
<circle cx="225.33" cy="319.52" r="1.40" fill="#4472c4"/>
<circle cx="229.78" cy="320.08" r="1.40" fill="#4472c4"/>
<circle cx="234.24" cy="319.51" r="1.40" fill="#4472c4"/>
<circle cx="238.65" cy="318.64" r="1.40" fill="#4472c4"/>
<path d="M46.00,309.00 C47.67,308.90 52.33,308.63 56.00,308.40 C59.67,308.17 64.00,308.00 68.00,307.60 C72.00,307.20 76.78,306.63 80.00,306.00 C83.22,305.37 84.88,304.58 87.30,303.80 C89.72,303.02 92.08,301.85 94.50,301.30 C96.92,300.75 99.37,300.40 101.80,300.50 C104.23,300.60 106.92,301.10 109.10,301.90 C111.28,302.70 113.08,303.77 114.90,305.30 C116.72,306.83 118.30,308.92 120.00,311.10 C121.70,313.28 123.40,316.70 125.10,318.40 C126.80,320.10 128.50,320.95 130.20,321.30 C131.90,321.65 133.25,320.98 135.30,320.50 C137.35,320.02 140.08,319.23 142.50,318.40 C144.92,317.57 147.62,316.23 149.80,315.50 C151.98,314.77 153.90,313.88 155.60,314.00 C157.30,314.12 158.85,315.60 160.00,316.20 C161.15,316.80 160.68,316.53 162.50,317.60 C164.32,318.67 167.75,322.25 170.90,322.60 C174.05,322.95 177.57,320.72 181.40,319.70 C185.23,318.68 190.42,316.85 193.90,316.50 C197.38,316.15 199.17,317.28 202.30,317.60 C205.43,317.92 209.57,318.23 212.70,318.40 C215.83,318.57 218.32,318.32 221.10,318.60 C223.88,318.88 226.27,320.13 229.40,320.10 C232.53,320.07 236.75,318.82 239.90,318.40 C243.05,317.98 244.38,317.60 248.30,317.60 C252.22,317.60 260.88,318.27 263.40,318.40" fill="none" stroke="#4472c4" stroke-width="2.00" stroke-linejoin="round" stroke-linecap="butt"/>
<path d="M61.10,253.40 C62.77,252.80 67.93,251.45 71.10,249.80 C74.27,248.15 77.40,245.17 80.10,243.50 C82.80,241.83 85.50,240.35 87.30,239.80 C89.10,239.25 89.28,239.30 90.90,240.20 C92.52,241.10 95.05,242.43 97.00,245.20 C98.95,247.97 101.13,253.30 102.60,256.80 C104.07,260.30 104.90,263.47 105.80,266.20 C106.70,268.93 107.07,271.17 108.00,273.20 C108.93,275.23 110.22,277.15 111.40,278.40 C112.58,279.65 113.80,281.25 115.10,280.70 C116.40,280.15 117.88,277.10 119.20,275.10 C120.52,273.10 121.93,269.98 123.00,268.70 C124.07,267.42 124.73,267.08 125.60,267.40 C126.47,267.72 127.12,268.98 128.20,270.60 C129.28,272.22 130.60,274.95 132.10,277.10 C133.60,279.25 135.27,282.00 137.20,283.50 C139.13,285.00 141.77,285.67 143.70,286.10 C145.63,286.53 147.08,286.42 148.80,286.10 C150.52,285.78 152.28,284.88 154.00,284.20 C155.72,283.52 157.17,282.58 159.10,282.00 C161.03,281.42 162.90,281.25 165.60,280.70 C168.30,280.15 173.68,279.03 175.30,278.70" fill="none" stroke="#000000" stroke-width="2.00" stroke-linejoin="round" stroke-linecap="butt"/>
<path d="M45.60,205.50 H263.50 V356.00 H45.60 Z" fill="none" stroke="#000" stroke-width="1.30"/>
<text x="36.20" y="208.80" font-size="10.00" text-anchor="end">9</text>
<path d="M45.60,224.31 h3" stroke="#000" stroke-width="0.8"/>
<text x="36.20" y="227.61" font-size="10.00" text-anchor="end">8.5</text>
<path d="M45.60,243.12 h3" stroke="#000" stroke-width="0.8"/>
<text x="36.20" y="246.43" font-size="10.00" text-anchor="end">8</text>
<path d="M45.60,261.94 h3" stroke="#000" stroke-width="0.8"/>
<text x="36.20" y="265.24" font-size="10.00" text-anchor="end">7.5</text>
<path d="M45.60,280.75 h3" stroke="#000" stroke-width="0.8"/>
<text x="36.20" y="284.05" font-size="10.00" text-anchor="end">7</text>
<path d="M45.60,299.56 h3" stroke="#000" stroke-width="0.8"/>
<text x="36.20" y="302.86" font-size="10.00" text-anchor="end">6.5</text>
<path d="M45.60,318.38 h3" stroke="#000" stroke-width="0.8"/>
<text x="36.20" y="321.68" font-size="10.00" text-anchor="end">6</text>
<path d="M45.60,337.19 h3" stroke="#000" stroke-width="0.8"/>
<text x="36.20" y="340.49" font-size="10.00" text-anchor="end">5.5</text>
<text x="36.20" y="359.30" font-size="10.00" text-anchor="end">5</text>
<text x="45.60" y="372.40" font-size="10.00" text-anchor="middle">0</text>
<path d="M94.02,356.00 v-3" stroke="#000" stroke-width="0.8"/>
<text x="94.02" y="372.40" font-size="10.00" text-anchor="middle">0.1</text>
<path d="M142.44,356.00 v-3" stroke="#000" stroke-width="0.8"/>
<text x="142.44" y="372.40" font-size="10.00" text-anchor="middle">0.2</text>
<path d="M190.87,356.00 v-3" stroke="#000" stroke-width="0.8"/>
<text x="190.87" y="372.40" font-size="10.00" text-anchor="middle">0.3</text>
<path d="M239.29,356.00 v-3" stroke="#000" stroke-width="0.8"/>
<text x="239.29" y="372.40" font-size="10.00" text-anchor="middle">0.4</text>
<text x="154.55" y="382.40" font-size="10.70" text-anchor="middle">Frequency (Hz)</text>
<text transform="translate(17.00,286.20) rotate(-90)" font-size="10.85" text-anchor="middle">Adeed mass A<tspan font-size="6.5" dy="2">55</tspan><tspan dy="-2"> (kg.m</tspan><tspan font-size="6.5" dy="-3">2</tspan><tspan dy="3">)</tspan></text>
<text transform="translate(19.00,224.90) rotate(-90)" font-size="9.50" text-anchor="start">&#215;<tspan dx="1.3"> 10</tspan><tspan font-size="5.70" dy="-3.5">9</tspan></text>
<path d="M148.20,214.10 H179.10" stroke="#ff0000" stroke-width="0.9"/>
<circle cx="163.65" cy="214.10" r="1.9" fill="#ff0000"/>
<text x="182.70" y="217.70" font-size="10.80" text-anchor="start">WAMIT-ref.</text>
<path d="M148.20,228.60 H179.10" stroke="#9dbbe6" stroke-width="1.2"/>
<circle cx="163.65" cy="228.60" r="1.2" fill="#4472c4"/>
<text x="182.70" y="232.20" font-size="10.80" text-anchor="start">Aqwa-ref.</text>
<path d="M148.20,243.50 H179.10" stroke="#4472c4" stroke-width="1.8"/>
<text x="182.70" y="247.10" font-size="10.80" text-anchor="start">Aqwa-present</text>
<path d="M148.20,258.60 H179.10" stroke="#000000" stroke-width="1.8"/>
<text x="182.70" y="262.20" font-size="10.80" text-anchor="start">Orcawave-present</text>
<path d="M323.00,279.40 L323.60,279.39 L324.40,279.37 L325.35,279.36 L326.42,279.34 L327.55,279.32 L328.72,279.30 L329.88,279.27 L330.99,279.25 L332.01,279.22 L332.90,279.20 L333.68,279.18 L334.40,279.17 L335.07,279.16 L335.71,279.15 L336.31,279.14 L336.90,279.13 L337.48,279.10 L338.07,279.05 L338.67,278.99 L339.30,278.90 L339.95,278.79 L340.60,278.66 L341.25,278.52 L341.90,278.36 L342.55,278.19 L343.20,278.01 L343.85,277.82 L344.50,277.62 L345.15,277.41 L345.80,277.20 L346.44,276.98 L347.08,276.73 L347.72,276.48 L348.36,276.21 L349.00,275.94 L349.64,275.66 L350.28,275.39 L350.92,275.12 L351.56,274.85 L352.20,274.60 L352.85,274.37 L353.50,274.16 L354.15,273.96 L354.80,273.76 L355.45,273.57 L356.10,273.36 L356.75,273.14 L357.40,272.90 L358.05,272.62 L358.70,272.30 L359.35,271.94 L360.01,271.56 L360.67,271.14 L361.32,270.71 L361.98,270.25 L362.63,269.78 L363.27,269.29 L363.90,268.80 L364.51,268.30 L365.10,267.80 L365.67,267.29 L366.24,266.78 L366.79,266.25 L367.33,265.71 L367.86,265.16 L368.38,264.61 L368.88,264.04 L369.37,263.47 L369.84,262.89 L370.30,262.30 L370.74,261.70 L371.16,261.08 L371.56,260.44 L371.94,259.79 L372.32,259.14 L372.68,258.49 L373.04,257.84 L373.39,257.21 L373.75,256.59 L374.10,256.00 L374.44,255.45 L374.77,254.96 L375.09,254.49 L375.39,254.05 L375.70,253.60 L376.01,253.13 L376.33,252.63 L376.66,252.06 L377.02,251.43 L377.40,250.70 L377.81,249.87 L378.26,248.94 L378.73,247.95 L379.22,246.89 L379.71,245.80 L380.21,244.69 L380.69,243.57 L381.16,242.48 L381.59,241.41 L382.00,240.40 L382.37,239.43 L382.72,238.46 L383.04,237.51 L383.35,236.57 L383.64,235.64 L383.93,234.71 L384.22,233.80 L384.50,232.89 L384.80,231.99 L385.10,231.10 L385.41,230.19 L385.71,229.25 L386.01,228.30 L386.31,227.34 L386.61,226.41 L386.91,225.52 L387.22,224.67 L387.54,223.89 L387.86,223.20 L388.20,222.60 L388.55,222.07 L388.93,221.56 L389.31,221.09 L389.70,220.68 L390.10,220.34 L390.50,220.09 L390.89,219.94 L391.27,219.92 L391.65,220.03 L392.00,220.30 L392.34,220.75 L392.68,221.39 L393.01,222.19 L393.33,223.11 L393.64,224.13 L393.95,225.22 L394.25,226.33 L394.54,227.46 L394.83,228.56 L395.10,229.60 L395.36,230.61 L395.61,231.61 L395.85,232.63 L396.08,233.66 L396.30,234.71 L396.52,235.78 L396.74,236.88 L396.95,238.02 L397.17,239.19 L397.40,240.40 L397.63,241.66 L397.86,242.96 L398.09,244.30 L398.32,245.68 L398.54,247.08 L398.77,248.50 L399.00,249.94 L399.23,251.39 L399.47,252.85 L399.70,254.30 L399.94,255.74 L400.18,257.16 L400.42,258.58 L400.66,260.01 L400.91,261.46 L401.15,262.94 L401.39,264.46 L401.63,266.04 L401.87,267.68 L402.10,269.40 L402.33,271.21 L402.55,273.10 L402.77,275.07 L402.99,277.08 L403.21,279.14 L403.43,281.23 L403.65,283.32 L403.86,285.41 L404.08,287.47 L404.30,289.50 L404.52,291.52 L404.73,293.57 L404.94,295.63 L405.15,297.70 L405.36,299.76 L405.57,301.79 L405.79,303.80 L406.02,305.76 L406.25,307.66 L406.50,309.50 L406.76,311.29 L407.04,313.06 L407.32,314.80 L407.61,316.50 L407.91,318.16 L408.21,319.76 L408.51,321.30 L408.81,322.78 L409.11,324.18 L409.40,325.50 L409.69,326.73 L409.98,327.86 L410.27,328.92 L410.56,329.91 L410.85,330.84 L411.14,331.73 L411.43,332.58 L411.72,333.40 L412.01,334.20 L412.30,335.00 L412.59,335.79 L412.87,336.56 L413.15,337.31 L413.43,338.03 L413.71,338.72 L413.99,339.37 L414.28,339.98 L414.58,340.54 L414.88,341.05 L415.20,341.50 L415.53,341.92 L415.86,342.33 L416.21,342.71 L416.56,343.06 L416.91,343.34 L417.28,343.56 L417.65,343.70 L418.02,343.75 L418.41,343.68 L418.80,343.50 L419.20,343.16 L419.63,342.66 L420.06,342.03 L420.50,341.30 L420.95,340.50 L421.40,339.66 L421.84,338.81 L422.27,337.98 L422.70,337.20 L423.10,336.50 L423.49,335.84 L423.86,335.18 L424.23,334.52 L424.59,333.86 L424.94,333.22 L425.29,332.60 L425.64,332.01 L425.99,331.46 L426.34,330.95 L426.70,330.50 L427.05,330.09 L427.38,329.70 L427.71,329.34 L428.03,329.01 L428.36,328.72 L428.70,328.47 L429.06,328.27 L429.44,328.12 L429.85,328.03 L430.30,328.00 L430.78,328.03 L431.30,328.12 L431.83,328.26 L432.39,328.45 L432.97,328.69 L433.57,328.97 L434.19,329.30 L434.82,329.66 L435.45,330.07 L436.10,330.50 L436.77,330.99 L437.47,331.57 L438.20,332.20 L438.95,332.88 L439.70,333.59 L440.45,334.32 L441.20,335.03 L441.93,335.73 L442.63,336.39 L443.30,337.00 L443.95,337.57 L444.58,338.14 L445.21,338.70 L445.83,339.25 L446.43,339.78 L447.01,340.29 L447.57,340.77 L448.10,341.22 L448.62,341.63 L449.10,342.00 L449.54,342.35 L449.94,342.68 L450.30,342.99 L450.63,343.28 L450.95,343.53 L451.26,343.74 L451.59,343.90 L451.93,344.00 L452.29,344.04 L452.70,344.00 L453.14,343.88 L453.60,343.66 L454.07,343.38 L454.56,343.03 L455.06,342.64 L455.58,342.21 L456.10,341.77 L456.63,341.33 L457.16,340.90 L457.70,340.50 L458.26,340.10 L458.86,339.67 L459.48,339.22 L460.11,338.76 L460.74,338.31 L461.36,337.86 L461.96,337.42 L462.53,337.01 L463.04,336.63 L463.50,336.30 L463.88,336.01 L464.20,335.74 L464.45,335.50 L464.67,335.28 L464.88,335.09 L465.07,334.91 L465.29,334.74 L465.54,334.59 L465.83,334.44 L466.20,334.30 L466.63,334.16 L467.11,334.03 L467.62,333.91 L468.17,333.80 L468.73,333.70 L469.31,333.62 L469.89,333.56 L470.48,333.51 L471.05,333.49 L471.60,333.50 L472.14,333.54 L472.68,333.61 L473.22,333.70 L473.76,333.82 L474.30,333.95 L474.84,334.10 L475.38,334.25 L475.92,334.40 L476.46,334.55 L477.00,334.70 L477.54,334.86 L478.08,335.06 L478.62,335.29 L479.16,335.52 L479.70,335.75 L480.24,335.96 L480.78,336.13 L481.32,336.26 L481.86,336.32 L482.40,336.30 L482.94,336.20 L483.48,336.03 L484.02,335.79 L484.56,335.51 L485.10,335.19 L485.64,334.85 L486.18,334.50 L486.72,334.15 L487.26,333.81 L487.80,333.50 L488.33,333.19 L488.85,332.87 L489.37,332.53 L489.88,332.19 L490.40,331.85 L490.92,331.52 L491.46,331.20 L492.02,330.90 L492.60,330.63 L493.20,330.40 L493.84,330.20 L494.51,330.02 L495.21,329.86 L495.92,329.73 L496.65,329.61 L497.38,329.50 L498.11,329.41 L498.83,329.33 L499.53,329.26 L500.20,329.20 L500.85,329.15 L501.49,329.13 L502.12,329.12 L502.74,329.13 L503.35,329.14 L503.96,329.16 L504.57,329.18 L505.17,329.20 L505.78,329.21 L506.40,329.20 L507.05,329.18 L507.74,329.15 L508.46,329.12 L509.18,329.09 L509.89,329.05 L510.57,329.01 L511.20,328.98 L511.76,328.95 L512.23,328.92 L512.60,328.90" fill="none" stroke="#9dbbe6" stroke-width="1.20" stroke-linejoin="round"/>
<circle cx="323.00" cy="279.40" r="1.60" fill="#4472c4"/>
<circle cx="327.20" cy="279.33" r="1.60" fill="#4472c4"/>
<circle cx="331.40" cy="279.24" r="1.60" fill="#4472c4"/>
<circle cx="335.60" cy="279.16" r="1.60" fill="#4472c4"/>
<circle cx="339.78" cy="278.82" r="1.60" fill="#4472c4"/>
<circle cx="343.86" cy="277.82" r="1.60" fill="#4472c4"/>
<circle cx="347.82" cy="276.44" r="1.60" fill="#4472c4"/>
<circle cx="351.69" cy="274.80" r="1.60" fill="#4472c4"/>
<circle cx="355.68" cy="273.50" r="1.60" fill="#4472c4"/>
<circle cx="359.52" cy="271.84" r="1.60" fill="#4472c4"/>
<circle cx="363.01" cy="269.49" r="1.60" fill="#4472c4"/>
<circle cx="366.22" cy="266.79" r="1.60" fill="#4472c4"/>
<circle cx="369.12" cy="263.76" r="1.60" fill="#4472c4"/>
<circle cx="371.60" cy="260.37" r="1.60" fill="#4472c4"/>
<circle cx="373.67" cy="256.72" r="1.60" fill="#4472c4"/>
<circle cx="375.96" cy="253.20" r="1.60" fill="#4472c4"/>
<circle cx="377.98" cy="249.52" r="1.60" fill="#4472c4"/>
<circle cx="379.75" cy="245.72" r="1.60" fill="#4472c4"/>
<circle cx="381.41" cy="241.86" r="1.60" fill="#4472c4"/>
<circle cx="382.90" cy="237.93" r="1.60" fill="#4472c4"/>
<circle cx="384.18" cy="233.93" r="1.60" fill="#4472c4"/>
<circle cx="385.49" cy="229.94" r="1.60" fill="#4472c4"/>
<circle cx="386.77" cy="225.94" r="1.60" fill="#4472c4"/>
<circle cx="388.51" cy="222.14" r="1.60" fill="#4472c4"/>
<circle cx="391.75" cy="220.11" r="1.60" fill="#4472c4"/>
<circle cx="393.55" cy="223.83" r="1.60" fill="#4472c4"/>
<circle cx="394.65" cy="227.89" r="1.60" fill="#4472c4"/>
<circle cx="395.69" cy="231.96" r="1.60" fill="#4472c4"/>
<circle cx="396.57" cy="236.06" r="1.60" fill="#4472c4"/>
<circle cx="397.36" cy="240.19" r="1.60" fill="#4472c4"/>
<circle cx="398.09" cy="244.32" r="1.60" fill="#4472c4"/>
<circle cx="398.77" cy="248.47" r="1.60" fill="#4472c4"/>
<circle cx="399.43" cy="252.62" r="1.60" fill="#4472c4"/>
<circle cx="400.11" cy="256.76" r="1.60" fill="#4472c4"/>
<circle cx="400.81" cy="260.90" r="1.60" fill="#4472c4"/>
<circle cx="401.48" cy="265.05" r="1.60" fill="#4472c4"/>
<circle cx="402.07" cy="269.21" r="1.60" fill="#4472c4"/>
<circle cx="402.58" cy="273.37" r="1.60" fill="#4472c4"/>
<circle cx="403.04" cy="277.55" r="1.60" fill="#4472c4"/>
<circle cx="403.48" cy="281.73" r="1.60" fill="#4472c4"/>
<circle cx="403.92" cy="285.90" r="1.60" fill="#4472c4"/>
<circle cx="404.36" cy="290.08" r="1.60" fill="#4472c4"/>
<circle cx="404.80" cy="294.26" r="1.60" fill="#4472c4"/>
<circle cx="405.22" cy="298.44" r="1.60" fill="#4472c4"/>
<circle cx="405.66" cy="302.61" r="1.60" fill="#4472c4"/>
<circle cx="406.14" cy="306.78" r="1.60" fill="#4472c4"/>
<circle cx="406.71" cy="310.95" r="1.60" fill="#4472c4"/>
<circle cx="407.37" cy="315.09" r="1.60" fill="#4472c4"/>
<circle cx="408.11" cy="319.23" r="1.60" fill="#4472c4"/>
<circle cx="408.93" cy="323.35" r="1.60" fill="#4472c4"/>
<circle cx="409.87" cy="327.44" r="1.60" fill="#4472c4"/>
<circle cx="411.06" cy="331.47" r="1.60" fill="#4472c4"/>
<circle cx="412.46" cy="335.43" r="1.60" fill="#4472c4"/>
<circle cx="413.98" cy="339.34" r="1.60" fill="#4472c4"/>
<circle cx="416.30" cy="342.81" r="1.60" fill="#4472c4"/>
<circle cx="419.73" cy="342.51" r="1.60" fill="#4472c4"/>
<circle cx="421.81" cy="338.86" r="1.60" fill="#4472c4"/>
<circle cx="423.86" cy="335.20" r="1.60" fill="#4472c4"/>
<circle cx="425.94" cy="331.55" r="1.60" fill="#4472c4"/>
<circle cx="428.74" cy="328.45" r="1.60" fill="#4472c4"/>
<circle cx="432.76" cy="328.60" r="1.60" fill="#4472c4"/>
<circle cx="436.39" cy="330.71" r="1.60" fill="#4472c4"/>
<circle cx="439.56" cy="333.46" r="1.60" fill="#4472c4"/>
<circle cx="442.59" cy="336.36" r="1.60" fill="#4472c4"/>
<circle cx="445.72" cy="339.16" r="1.60" fill="#4472c4"/>
<circle cx="448.93" cy="341.87" r="1.60" fill="#4472c4"/>
<circle cx="452.42" cy="344.03" r="1.60" fill="#4472c4"/>
<circle cx="455.96" cy="341.89" r="1.60" fill="#4472c4"/>
<circle cx="459.30" cy="339.35" r="1.60" fill="#4472c4"/>
<circle cx="462.70" cy="336.88" r="1.60" fill="#4472c4"/>
<circle cx="466.03" cy="334.37" r="1.60" fill="#4472c4"/>
<circle cx="470.14" cy="333.54" r="1.60" fill="#4472c4"/>
<circle cx="474.29" cy="333.95" r="1.60" fill="#4472c4"/>
<circle cx="478.31" cy="335.16" r="1.60" fill="#4472c4"/>
<circle cx="482.31" cy="336.30" r="1.60" fill="#4472c4"/>
<circle cx="486.08" cy="334.56" r="1.60" fill="#4472c4"/>
<circle cx="489.65" cy="332.35" r="1.60" fill="#4472c4"/>
<circle cx="493.33" cy="330.36" r="1.60" fill="#4472c4"/>
<circle cx="497.43" cy="329.50" r="1.60" fill="#4472c4"/>
<circle cx="501.62" cy="329.13" r="1.60" fill="#4472c4"/>
<circle cx="505.82" cy="329.21" r="1.60" fill="#4472c4"/>
<circle cx="510.01" cy="329.04" r="1.60" fill="#4472c4"/>
<circle cx="512.60" cy="328.90" r="1.60" fill="#4472c4"/>
<path d="M323.00,284.50 L323.36,284.50 L323.83,284.50 L324.38,284.51 L325.01,284.51 L325.68,284.52 L326.37,284.52 L327.07,284.52 L327.76,284.52 L328.41,284.51 L329.00,284.50 L329.55,284.48 L330.09,284.47 L330.62,284.44 L331.14,284.42 L331.66,284.39 L332.17,284.36 L332.67,284.33 L333.18,284.29 L333.69,284.25 L334.20,284.20 L334.71,284.15 L335.20,284.10 L335.69,284.04 L336.18,283.99 L336.67,283.93 L337.16,283.86 L337.67,283.78 L338.19,283.70 L338.73,283.60 L339.30,283.50 L339.89,283.39 L340.51,283.26 L341.15,283.13 L341.80,282.99 L342.47,282.84 L343.14,282.68 L343.81,282.52 L344.48,282.35 L345.15,282.18 L345.80,282.00 L346.45,281.81 L347.11,281.62 L347.77,281.42 L348.42,281.21 L349.08,280.99 L349.73,280.78 L350.37,280.56 L351.00,280.34 L351.61,280.12 L352.20,279.90 L352.77,279.68 L353.34,279.46 L353.89,279.24 L354.43,279.02 L354.96,278.80 L355.47,278.58 L355.97,278.36 L356.46,278.14 L356.94,277.92 L357.40,277.70 L357.84,277.49 L358.25,277.28 L358.65,277.08 L359.02,276.89 L359.39,276.69 L359.76,276.49 L360.13,276.28 L360.50,276.06 L360.89,275.84 L361.30,275.60 L361.74,275.35 L362.20,275.08 L362.68,274.80 L363.16,274.52 L363.65,274.23 L364.13,273.93 L364.59,273.64 L365.03,273.35 L365.44,273.07 L365.80,272.80 L366.11,272.55 L366.37,272.31 L366.59,272.09 L366.79,271.87 L366.97,271.66 L367.16,271.43 L367.35,271.19 L367.56,270.92 L367.81,270.63 L368.10,270.30 L368.44,269.93 L368.83,269.52 L369.24,269.09 L369.68,268.63 L370.13,268.16 L370.58,267.68 L371.02,267.20 L371.45,266.72 L371.84,266.25 L372.20,265.80 L372.52,265.37 L372.82,264.94 L373.09,264.52 L373.35,264.10 L373.59,263.68 L373.83,263.26 L374.07,262.84 L374.30,262.40 L374.55,261.96 L374.80,261.50 L375.06,261.04 L375.31,260.59 L375.57,260.15 L375.82,259.69 L376.07,259.23 L376.33,258.75 L376.59,258.24 L376.85,257.70 L377.12,257.12 L377.40,256.50 L377.68,255.84 L377.95,255.14 L378.22,254.42 L378.49,253.67 L378.77,252.89 L379.06,252.07 L379.36,251.23 L379.68,250.35 L380.03,249.44 L380.40,248.50 L380.81,247.50 L381.26,246.41 L381.74,245.27 L382.23,244.10 L382.74,242.90 L383.25,241.70 L383.75,240.53 L384.24,239.39 L384.69,238.30 L385.10,237.30 L385.47,236.34 L385.81,235.38 L386.13,234.45 L386.42,233.54 L386.71,232.67 L386.99,231.85 L387.27,231.09 L387.56,230.41 L387.87,229.81 L388.20,229.30 L388.55,228.86 L388.91,228.44 L389.29,228.08 L389.66,227.78 L390.05,227.56 L390.44,227.43 L390.83,227.42 L391.22,227.53 L391.61,227.78 L392.00,228.20 L392.39,228.82 L392.80,229.64 L393.21,230.64 L393.63,231.77 L394.04,233.00 L394.45,234.29 L394.84,235.60 L395.22,236.90 L395.57,238.14 L395.90,239.30 L396.19,240.39 L396.46,241.47 L396.71,242.54 L396.94,243.61 L397.15,244.68 L397.36,245.75 L397.56,246.83 L397.77,247.93 L397.98,249.05 L398.20,250.20 L398.43,251.35 L398.66,252.49 L398.88,253.62 L399.11,254.77 L399.34,255.94 L399.57,257.14 L399.80,258.38 L400.03,259.68 L400.26,261.05 L400.50,262.50 L400.74,264.03 L400.98,265.63 L401.22,267.29 L401.46,269.01 L401.71,270.77 L401.95,272.57 L402.21,274.40 L402.46,276.26 L402.73,278.13 L403.00,280.00 L403.28,281.90 L403.57,283.84 L403.86,285.82 L404.16,287.82 L404.47,289.84 L404.78,291.88 L405.08,293.92 L405.39,295.96 L405.70,297.99 L406.00,300.00 L406.30,302.02 L406.60,304.08 L406.90,306.16 L407.20,308.24 L407.50,310.31 L407.80,312.36 L408.10,314.37 L408.40,316.32 L408.70,318.20 L409.00,320.00 L409.30,321.73 L409.61,323.42 L409.92,325.06 L410.22,326.65 L410.53,328.19 L410.84,329.67 L411.14,331.10 L411.43,332.46 L411.72,333.77 L412.00,335.00 L412.27,336.17 L412.53,337.27 L412.79,338.31 L413.04,339.29 L413.28,340.21 L413.52,341.08 L413.77,341.89 L414.01,342.64 L414.25,343.35 L414.50,344.00 L414.75,344.60 L414.99,345.13 L415.23,345.61 L415.48,346.03 L415.72,346.40 L415.96,346.72 L416.21,347.00 L416.47,347.24 L416.73,347.43 L417.00,347.60 L417.27,347.73 L417.54,347.83 L417.80,347.90 L418.07,347.92 L418.34,347.89 L418.63,347.82 L418.94,347.70 L419.26,347.53 L419.62,347.29 L420.00,347.00 L420.42,346.64 L420.87,346.20 L421.34,345.70 L421.84,345.15 L422.36,344.55 L422.88,343.91 L423.41,343.24 L423.95,342.54 L424.48,341.82 L425.00,341.10 L425.52,340.30 L426.03,339.38 L426.56,338.38 L427.08,337.34 L427.61,336.30 L428.14,335.30 L428.67,334.38 L429.21,333.58 L429.75,332.94 L430.30,332.50 L430.85,332.26 L431.39,332.16 L431.94,332.20 L432.49,332.36 L433.04,332.61 L433.61,332.93 L434.18,333.31 L434.77,333.73 L435.38,334.16 L436.00,334.60 L436.64,335.07 L437.30,335.62 L437.97,336.23 L438.66,336.88 L439.36,337.57 L440.07,338.29 L440.79,339.01 L441.52,339.73 L442.25,340.43 L443.00,341.10 L443.76,341.82 L444.52,342.63 L445.29,343.51 L446.08,344.40 L446.88,345.26 L447.68,346.05 L448.50,346.72 L449.32,347.23 L450.16,347.54 L451.00,347.60 L451.87,347.37 L452.78,346.86 L453.71,346.13 L454.66,345.24 L455.61,344.24 L456.55,343.18 L457.47,342.13 L458.36,341.12 L459.21,340.23 L460.00,339.50 L460.74,338.89 L461.43,338.32 L462.09,337.78 L462.72,337.28 L463.32,336.82 L463.91,336.39 L464.49,335.99 L465.06,335.63 L465.62,335.30 L466.20,335.00 L466.77,334.73 L467.33,334.51 L467.88,334.32 L468.42,334.16 L468.95,334.03 L469.48,333.93 L470.01,333.86 L470.53,333.82 L471.06,333.80 L471.60,333.80 L472.14,333.84 L472.68,333.92 L473.22,334.04 L473.76,334.19 L474.30,334.36 L474.84,334.54 L475.38,334.72 L475.92,334.90 L476.46,335.06 L477.00,335.20 L477.54,335.34 L478.08,335.49 L478.62,335.65 L479.16,335.81 L479.70,335.96 L480.24,336.10 L480.78,336.21 L481.32,336.28 L481.86,336.32 L482.40,336.30 L482.94,336.23 L483.48,336.11 L484.02,335.95 L484.56,335.75 L485.10,335.53 L485.64,335.29 L486.18,335.04 L486.72,334.79 L487.26,334.54 L487.80,334.30 L488.33,334.06 L488.85,333.80 L489.37,333.53 L489.88,333.25 L490.40,332.96 L490.92,332.68 L491.46,332.41 L492.02,332.15 L492.60,331.91 L493.20,331.70 L493.84,331.50 L494.51,331.31 L495.21,331.14 L495.92,330.97 L496.65,330.81 L497.38,330.67 L498.11,330.55 L498.83,330.45 L499.53,330.36 L500.20,330.30 L500.86,330.27 L501.52,330.27 L502.17,330.29 L502.81,330.34 L503.45,330.39 L504.07,330.46 L504.68,330.53 L505.28,330.60 L505.85,330.66 L506.40,330.70 L506.92,330.74 L507.40,330.79 L507.85,330.85 L508.28,330.91 L508.70,330.96 L509.12,331.01 L509.55,331.04 L510.00,331.05 L510.48,331.04 L511.00,331.00 L511.58,330.92 L512.24,330.81 L512.94,330.66 L513.66,330.50 L514.39,330.32 L515.09,330.14 L515.75,329.97 L516.33,329.82 L516.82,329.69 L517.20,329.60" fill="none" stroke="#ff0000" stroke-width="0.90" stroke-linejoin="round"/>
<circle cx="323.00" cy="284.50" r="2.10" fill="#ff0000"/>
<circle cx="327.50" cy="284.52" r="2.10" fill="#ff0000"/>
<circle cx="332.00" cy="284.37" r="2.10" fill="#ff0000"/>
<circle cx="336.48" cy="283.95" r="2.10" fill="#ff0000"/>
<circle cx="340.91" cy="283.18" r="2.10" fill="#ff0000"/>
<circle cx="345.29" cy="282.14" r="2.10" fill="#ff0000"/>
<circle cx="349.59" cy="280.82" r="2.10" fill="#ff0000"/>
<circle cx="353.81" cy="279.27" r="2.10" fill="#ff0000"/>
<circle cx="357.92" cy="277.45" r="2.10" fill="#ff0000"/>
<circle cx="361.86" cy="275.27" r="2.10" fill="#ff0000"/>
<circle cx="365.68" cy="272.89" r="2.10" fill="#ff0000"/>
<circle cx="368.74" cy="269.61" r="2.10" fill="#ff0000"/>
<circle cx="371.80" cy="266.31" r="2.10" fill="#ff0000"/>
<circle cx="374.23" cy="262.53" r="2.10" fill="#ff0000"/>
<circle cx="376.41" cy="258.60" r="2.10" fill="#ff0000"/>
<circle cx="378.20" cy="254.47" r="2.10" fill="#ff0000"/>
<circle cx="379.73" cy="250.24" r="2.10" fill="#ff0000"/>
<circle cx="381.40" cy="246.06" r="2.10" fill="#ff0000"/>
<circle cx="383.16" cy="241.92" r="2.10" fill="#ff0000"/>
<circle cx="384.91" cy="237.77" r="2.10" fill="#ff0000"/>
<circle cx="386.42" cy="233.54" r="2.10" fill="#ff0000"/>
<circle cx="388.14" cy="229.39" r="2.10" fill="#ff0000"/>
<circle cx="391.71" cy="227.89" r="2.10" fill="#ff0000"/>
<circle cx="393.68" cy="231.91" r="2.10" fill="#ff0000"/>
<circle cx="395.02" cy="236.20" r="2.10" fill="#ff0000"/>
<circle cx="396.23" cy="240.53" r="2.10" fill="#ff0000"/>
<circle cx="397.20" cy="244.93" r="2.10" fill="#ff0000"/>
<circle cx="398.03" cy="249.35" r="2.10" fill="#ff0000"/>
<circle cx="398.91" cy="253.76" r="2.10" fill="#ff0000"/>
<circle cx="399.76" cy="258.18" r="2.10" fill="#ff0000"/>
<circle cx="400.52" cy="262.62" r="2.10" fill="#ff0000"/>
<circle cx="401.19" cy="267.07" r="2.10" fill="#ff0000"/>
<circle cx="401.81" cy="271.53" r="2.10" fill="#ff0000"/>
<circle cx="402.43" cy="275.98" r="2.10" fill="#ff0000"/>
<circle cx="403.06" cy="280.44" r="2.10" fill="#ff0000"/>
<circle cx="403.72" cy="284.89" r="2.10" fill="#ff0000"/>
<circle cx="404.39" cy="289.34" r="2.10" fill="#ff0000"/>
<circle cx="405.06" cy="293.79" r="2.10" fill="#ff0000"/>
<circle cx="405.74" cy="298.24" r="2.10" fill="#ff0000"/>
<circle cx="406.40" cy="302.69" r="2.10" fill="#ff0000"/>
<circle cx="407.04" cy="307.14" r="2.10" fill="#ff0000"/>
<circle cx="407.69" cy="311.60" r="2.10" fill="#ff0000"/>
<circle cx="408.36" cy="316.05" r="2.10" fill="#ff0000"/>
<circle cx="409.09" cy="320.49" r="2.10" fill="#ff0000"/>
<circle cx="409.89" cy="324.91" r="2.10" fill="#ff0000"/>
<circle cx="410.77" cy="329.33" r="2.10" fill="#ff0000"/>
<circle cx="411.71" cy="333.73" r="2.10" fill="#ff0000"/>
<circle cx="412.74" cy="338.11" r="2.10" fill="#ff0000"/>
<circle cx="413.94" cy="342.44" r="2.10" fill="#ff0000"/>
<circle cx="415.81" cy="346.52" r="2.10" fill="#ff0000"/>
<circle cx="419.66" cy="347.26" r="2.10" fill="#ff0000"/>
<circle cx="422.78" cy="344.03" r="2.10" fill="#ff0000"/>
<circle cx="425.45" cy="340.41" r="2.10" fill="#ff0000"/>
<circle cx="427.54" cy="336.43" r="2.10" fill="#ff0000"/>
<circle cx="430.03" cy="332.72" r="2.10" fill="#ff0000"/>
<circle cx="434.13" cy="333.28" r="2.10" fill="#ff0000"/>
<circle cx="437.71" cy="335.99" r="2.10" fill="#ff0000"/>
<circle cx="440.92" cy="339.15" r="2.10" fill="#ff0000"/>
<circle cx="444.17" cy="342.26" r="2.10" fill="#ff0000"/>
<circle cx="447.20" cy="345.58" r="2.10" fill="#ff0000"/>
<circle cx="451.06" cy="347.58" r="2.10" fill="#ff0000"/>
<circle cx="454.76" cy="345.14" r="2.10" fill="#ff0000"/>
<circle cx="457.77" cy="341.79" r="2.10" fill="#ff0000"/>
<circle cx="461.00" cy="338.67" r="2.10" fill="#ff0000"/>
<circle cx="464.57" cy="335.94" r="2.10" fill="#ff0000"/>
<circle cx="468.65" cy="334.10" r="2.10" fill="#ff0000"/>
<circle cx="473.11" cy="334.01" r="2.10" fill="#ff0000"/>
<circle cx="477.42" cy="335.31" r="2.10" fill="#ff0000"/>
<circle cx="481.79" cy="336.31" r="2.10" fill="#ff0000"/>
<circle cx="486.08" cy="335.09" r="2.10" fill="#ff0000"/>
<circle cx="490.12" cy="333.12" r="2.10" fill="#ff0000"/>
<circle cx="494.26" cy="331.39" r="2.10" fill="#ff0000"/>
<circle cx="498.66" cy="330.47" r="2.10" fill="#ff0000"/>
<circle cx="503.15" cy="330.37" r="2.10" fill="#ff0000"/>
<circle cx="507.62" cy="330.82" r="2.10" fill="#ff0000"/>
<circle cx="512.10" cy="330.83" r="2.10" fill="#ff0000"/>
<circle cx="516.47" cy="329.78" r="2.10" fill="#ff0000"/>
<path d="M323.00,279.90 C324.65,279.87 330.18,279.78 332.90,279.70 C335.62,279.62 337.15,279.73 339.30,279.40 C341.45,279.07 343.65,278.42 345.80,277.70 C347.95,276.98 350.05,275.92 352.20,275.10 C354.35,274.28 356.55,273.93 358.70,272.80 C360.85,271.67 363.17,269.97 365.10,268.30 C367.03,266.63 368.80,264.77 370.30,262.80 C371.80,260.83 372.92,258.43 374.10,256.50 C375.28,254.57 376.08,253.80 377.40,251.20 C378.72,248.60 380.72,244.17 382.00,240.90 C383.28,237.63 384.07,234.57 385.10,231.60 C386.13,228.63 387.05,224.90 388.20,223.10 C389.35,221.30 390.85,219.63 392.00,220.80 C393.15,221.97 394.20,226.75 395.10,230.10 C396.00,233.45 396.63,236.78 397.40,240.90 C398.17,245.02 398.92,249.97 399.70,254.80 C400.48,259.63 401.33,264.03 402.10,269.90 C402.87,275.77 403.57,283.32 404.30,290.00 C405.03,296.68 405.65,304.00 406.50,310.00 C407.35,316.00 408.43,321.75 409.40,326.00 C410.37,330.25 411.33,332.83 412.30,335.50 C413.27,338.17 414.12,340.58 415.20,342.00 C416.28,343.42 417.48,344.83 418.80,344.00 C420.12,343.17 421.78,339.17 423.10,337.00 C424.42,334.83 425.50,332.42 426.70,331.00 C427.90,329.58 428.73,328.50 430.30,328.50 C431.87,328.50 433.93,329.50 436.10,331.00 C438.27,332.50 441.13,335.58 443.30,337.50 C445.47,339.42 447.53,341.33 449.10,342.50 C450.67,343.67 451.27,344.75 452.70,344.50 C454.13,344.25 455.90,342.28 457.70,341.00 C459.50,339.72 462.08,337.83 463.50,336.80 C464.92,335.77 464.85,335.27 466.20,334.80 C467.55,334.33 469.80,333.93 471.60,334.00 C473.40,334.07 475.20,334.73 477.00,335.20 C478.80,335.67 480.60,337.00 482.40,336.80 C484.20,336.60 486.00,334.98 487.80,334.00 C489.60,333.02 491.13,331.62 493.20,330.90 C495.27,330.18 498.00,329.90 500.20,329.70 C502.40,329.50 504.33,329.75 506.40,329.70 C508.47,329.65 510.80,329.72 512.60,329.40 C514.40,329.08 515.15,328.27 517.20,327.80 C519.25,327.33 522.33,326.85 524.90,326.60 C527.47,326.35 530.02,326.67 532.60,326.30 C535.18,325.93 539.10,324.72 540.40,324.40" fill="none" stroke="#4472c4" stroke-width="2.00" stroke-linejoin="round" stroke-linecap="butt"/>
<path d="M337.10,280.50 L339.30,280.30 L345.80,278.50 L352.20,276.00 L358.70,274.00 L365.10,269.80 L370.30,264.50 L375.00,257.50 L380.00,248.50 L385.10,237.80 L388.20,230.10 L392.00,227.80 L395.10,237.80 L398.20,253.20 L401.30,269.90 L403.20,285.60 L406.30,306.20 L409.40,324.80 L412.30,334.60 L415.20,341.10 L418.80,342.60 L423.10,336.10 L426.70,330.30 L430.30,327.40 L436.10,330.00 L443.30,336.80 L449.10,341.80 L452.70,344.00" fill="none" stroke="#3b4b66" stroke-width="2.00" stroke-linejoin="round" stroke-linecap="butt"/>
<path d="M322.60,205.50 H540.50 V356.00 H322.60 Z" fill="none" stroke="#000" stroke-width="1.30"/>
<text x="313.30" y="208.80" font-size="10.00" text-anchor="end">10</text>
<path d="M322.60,227.00 h3" stroke="#000" stroke-width="0.8"/>
<text x="313.30" y="230.30" font-size="10.00" text-anchor="end">9</text>
<path d="M322.60,248.50 h3" stroke="#000" stroke-width="0.8"/>
<text x="313.30" y="251.80" font-size="10.00" text-anchor="end">8</text>
<path d="M322.60,270.00 h3" stroke="#000" stroke-width="0.8"/>
<text x="313.30" y="273.30" font-size="10.00" text-anchor="end">7</text>
<path d="M322.60,291.50 h3" stroke="#000" stroke-width="0.8"/>
<text x="313.30" y="294.80" font-size="10.00" text-anchor="end">6</text>
<path d="M322.60,313.00 h3" stroke="#000" stroke-width="0.8"/>
<text x="313.30" y="316.30" font-size="10.00" text-anchor="end">5</text>
<path d="M322.60,334.50 h3" stroke="#000" stroke-width="0.8"/>
<text x="313.30" y="337.80" font-size="10.00" text-anchor="end">4</text>
<text x="313.30" y="359.30" font-size="10.00" text-anchor="end">3</text>
<text x="322.60" y="372.40" font-size="10.00" text-anchor="middle">0</text>
<path d="M371.02,356.00 v-3" stroke="#000" stroke-width="0.8"/>
<text x="371.02" y="372.40" font-size="10.00" text-anchor="middle">0.1</text>
<path d="M419.44,356.00 v-3" stroke="#000" stroke-width="0.8"/>
<text x="419.44" y="372.40" font-size="10.00" text-anchor="middle">0.2</text>
<path d="M467.87,356.00 v-3" stroke="#000" stroke-width="0.8"/>
<text x="467.87" y="372.40" font-size="10.00" text-anchor="middle">0.3</text>
<path d="M516.29,356.00 v-3" stroke="#000" stroke-width="0.8"/>
<text x="516.29" y="372.40" font-size="10.00" text-anchor="middle">0.4</text>
<text x="431.55" y="382.40" font-size="10.70" text-anchor="middle">Frequency (Hz)</text>
<text transform="translate(294.50,286.80) rotate(-90)" font-size="10.85" text-anchor="middle">Added mass A<tspan font-size="6.5" dy="2">66</tspan><tspan dy="-2"> (kg.m</tspan><tspan font-size="6.5" dy="-3">2</tspan><tspan dy="3">)</tspan></text>
<text transform="translate(296.00,224.90) rotate(-90)" font-size="9.50" text-anchor="start">&#215;<tspan dx="1.3"> 10</tspan><tspan font-size="5.70" dy="-3.5">9</tspan></text>
<path d="M423.20,215.00 H453.50" stroke="#ff0000" stroke-width="0.9"/>
<circle cx="438.35" cy="215.00" r="1.9" fill="#ff0000"/>
<text x="457.20" y="218.60" font-size="10.80" text-anchor="start">WAMIT-ref.</text>
<path d="M423.20,229.90 H453.50" stroke="#9dbbe6" stroke-width="1.2"/>
<circle cx="438.35" cy="229.90" r="1.2" fill="#4472c4"/>
<text x="457.20" y="233.50" font-size="10.80" text-anchor="start">Aqwa-ref.</text>
<path d="M423.20,244.60 H453.50" stroke="#4472c4" stroke-width="1.8"/>
<text x="457.20" y="248.20" font-size="10.80" text-anchor="start">Aqwa-present</text>
<path d="M423.20,259.20 H453.50" stroke="#3b4b66" stroke-width="1.8"/>
<text x="457.20" y="262.80" font-size="10.80" text-anchor="start">Orcawave-present</text>
</svg>
</body></html>
